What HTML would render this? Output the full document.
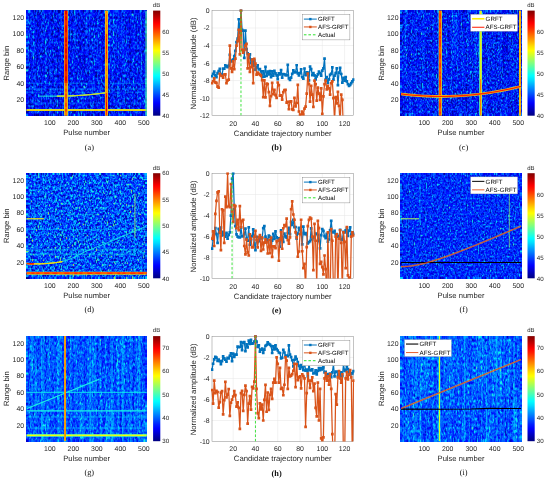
<!DOCTYPE html>
<html lang="en"><head><meta charset="utf-8"><title>Figure</title><style>html,body{margin:0;padding:0;background:#fff}svg{display:block}</style></head><body><svg width="550" height="480" viewBox="0 0 550 480" text-rendering="geometricPrecision"><defs><linearGradient id="jet" x1="0" y1="1" x2="0" y2="0"><stop offset="0" stop-color="#000080"/><stop offset="0.03" stop-color="#00009f"/><stop offset="0.06" stop-color="#0000bf"/><stop offset="0.09" stop-color="#0000df"/><stop offset="0.12" stop-color="#0000ff"/><stop offset="0.16" stop-color="#0020ff"/><stop offset="0.19" stop-color="#0040ff"/><stop offset="0.22" stop-color="#0060ff"/><stop offset="0.25" stop-color="#0080ff"/><stop offset="0.28" stop-color="#009fff"/><stop offset="0.31" stop-color="#00bfff"/><stop offset="0.34" stop-color="#00dfff"/><stop offset="0.38" stop-color="#00ffff"/><stop offset="0.41" stop-color="#20ffdf"/><stop offset="0.44" stop-color="#40ffbf"/><stop offset="0.47" stop-color="#60ff9f"/><stop offset="0.5" stop-color="#80ff80"/><stop offset="0.53" stop-color="#9fff60"/><stop offset="0.56" stop-color="#bfff40"/><stop offset="0.59" stop-color="#dfff20"/><stop offset="0.62" stop-color="#ffff00"/><stop offset="0.66" stop-color="#ffdf00"/><stop offset="0.69" stop-color="#ffbf00"/><stop offset="0.72" stop-color="#ff9f00"/><stop offset="0.75" stop-color="#ff8000"/><stop offset="0.78" stop-color="#ff6000"/><stop offset="0.81" stop-color="#ff4000"/><stop offset="0.84" stop-color="#ff2000"/><stop offset="0.88" stop-color="#ff0000"/><stop offset="0.91" stop-color="#df0000"/><stop offset="0.94" stop-color="#bf0000"/><stop offset="0.97" stop-color="#9f0000"/><stop offset="1" stop-color="#800000"/></linearGradient><filter id="b1" filterUnits="userSpaceOnUse" x="0" y="0" width="550" height="480"><feGaussianBlur stdDeviation="0.45"/></filter><filter id="b2" filterUnits="userSpaceOnUse" x="0" y="0" width="550" height="480"><feGaussianBlur stdDeviation="0.8"/></filter><filter id="na" x="0" y="0" width="1" height="1" color-interpolation-filters="sRGB"><feTurbulence type="fractalNoise" baseFrequency="0.75 0.36" numOctaves="2" seed="3"/><feColorMatrix type="matrix" values="0.5 0.5 0.5 0.5 -0.5 0.5 0.5 0.5 0.5 -0.5 0.5 0.5 0.5 0.5 -0.5 0 0 0 0 1" result="g1"/><feTurbulence type="fractalNoise" baseFrequency="0.4 0.012" numOctaves="2" seed="53" result="s0"/><feColorMatrix in="s0" type="matrix" values="1 0 0 0 0 1 0 0 0 0 1 0 0 0 0 0 0 0 0 1" result="s1"/><feComposite in="g1" in2="s1" operator="arithmetic" k1="0" k2="1" k3="0.3" k4="-0.15"/><feComponentTransfer><feFuncR type="table" tableValues="0 0 0 0 0 0 0 0 0 0 0 0 0 0 0 0 0 0 0 0 0 0 0 0 0 0 0 0 0.03 0.13 0.23 0.33 0.43"/><feFuncG type="table" tableValues="0 0 0 0 0 0 0 0 0 0 0 0 0 0 0 0 0.07 0.14 0.21 0.28 0.35 0.43 0.51 0.59 0.68 0.76 0.85 0.94 1 1 1 1 1"/><feFuncB type="table" tableValues="0.5 0.5 0.5 0.5 0.5 0.5 0.5 0.5 0.51 0.58 0.65 0.72 0.79 0.86 0.93 1 1 1 1 1 1 1 1 1 1 1 1 1 0.97 0.87 0.77 0.67 0.57"/></feComponentTransfer><feConvolveMatrix order="3" kernelMatrix="1 2 1 2 30 2 1 2 1" divisor="42" edgeMode="duplicate" preserveAlpha="true"/></filter><filter id="nc" x="0" y="0" width="1" height="1" color-interpolation-filters="sRGB"><feTurbulence type="fractalNoise" baseFrequency="0.8 0.45" numOctaves="2" seed="11"/><feColorMatrix type="matrix" values="0.5 0.5 0.5 0.5 -0.5 0.5 0.5 0.5 0.5 -0.5 0.5 0.5 0.5 0.5 -0.5 0 0 0 0 1" result="g1"/><feTurbulence type="fractalNoise" baseFrequency="0.4 0.012" numOctaves="2" seed="61" result="s0"/><feColorMatrix in="s0" type="matrix" values="1 0 0 0 0 1 0 0 0 0 1 0 0 0 0 0 0 0 0 1" result="s1"/><feComposite in="g1" in2="s1" operator="arithmetic" k1="0" k2="1" k3="0.25" k4="-0.12"/><feComponentTransfer><feFuncR type="table" tableValues="0 0 0 0 0 0 0 0 0 0 0 0 0 0 0 0 0 0 0 0 0 0 0 0 0 0 0 0 0.03 0.13 0.23 0.33 0.43"/><feFuncG type="table" tableValues="0 0 0 0 0 0 0 0 0 0 0 0 0 0 0 0 0.07 0.14 0.21 0.28 0.35 0.43 0.51 0.59 0.68 0.76 0.85 0.94 1 1 1 1 1"/><feFuncB type="table" tableValues="0.5 0.5 0.5 0.5 0.5 0.5 0.5 0.5 0.51 0.58 0.65 0.72 0.79 0.86 0.93 1 1 1 1 1 1 1 1 1 1 1 1 1 0.97 0.87 0.77 0.67 0.57"/></feComponentTransfer><feConvolveMatrix order="3" kernelMatrix="1 2 1 2 30 2 1 2 1" divisor="42" edgeMode="duplicate" preserveAlpha="true"/></filter><filter id="nd" x="0" y="0" width="1" height="1" color-interpolation-filters="sRGB"><feTurbulence type="fractalNoise" baseFrequency="0.83 0.57" numOctaves="1" seed="5"/><feColorMatrix type="matrix" values="0.5 0.5 0.5 0.5 -0.5 0.5 0.5 0.5 0.5 -0.5 0.5 0.5 0.5 0.5 -0.5 0 0 0 0 1" result="g1"/><feTurbulence type="fractalNoise" baseFrequency="0.47 0.39" numOctaves="2" seed="55" result="s0"/><feColorMatrix in="s0" type="matrix" values="1 0 0 0 0 1 0 0 0 0 1 0 0 0 0 0 0 0 0 1" result="s1"/><feComposite in="g1" in2="s1" operator="arithmetic" k1="0" k2="1" k3="0.66" k4="-0.33"/><feComponentTransfer><feFuncR type="table" tableValues="0 0 0 0 0 0 0 0 0 0 0 0 0 0 0 0 0 0 0 0 0 0 0 0 0.13 0.27 0.41 0.57 0.73 0.9 1 1 1"/><feFuncG type="table" tableValues="0 0 0 0 0 0 0 0 0 0 0 0 0 0.03 0.12 0.2 0.29 0.37 0.46 0.55 0.65 0.76 0.87 1 1 1 1 1 1 1 0.92 0.74 0.54"/><feFuncB type="table" tableValues="0.5 0.5 0.5 0.5 0.5 0.5 0.5 0.52 0.61 0.69 0.78 0.86 0.95 1 1 1 1 1 1 1 1 1 1 1 0.87 0.73 0.59 0.43 0.27 0.1 0 0 0"/></feComponentTransfer><feConvolveMatrix order="3" kernelMatrix="1 2 1 2 30 2 1 2 1" divisor="42" edgeMode="duplicate" preserveAlpha="true"/></filter><filter id="nf" x="0" y="0" width="1" height="1" color-interpolation-filters="sRGB"><feTurbulence type="fractalNoise" baseFrequency="0.83 0.57" numOctaves="1" seed="17"/><feColorMatrix type="matrix" values="0.5 0.5 0.5 0.5 -0.5 0.5 0.5 0.5 0.5 -0.5 0.5 0.5 0.5 0.5 -0.5 0 0 0 0 1" result="g1"/><feTurbulence type="fractalNoise" baseFrequency="0.47 0.39" numOctaves="2" seed="67" result="s0"/><feColorMatrix in="s0" type="matrix" values="1 0 0 0 0 1 0 0 0 0 1 0 0 0 0 0 0 0 0 1" result="s1"/><feComposite in="g1" in2="s1" operator="arithmetic" k1="0" k2="1" k3="0.45" k4="-0.23"/><feComponentTransfer><feFuncR type="table" tableValues="0 0 0 0 0 0 0 0 0 0 0 0 0 0 0 0 0 0 0 0 0 0 0 0 0 0 0 0.02 0.12 0.23 0.34 0.45 0.56"/><feFuncG type="table" tableValues="0 0 0 0 0 0 0 0 0 0 0 0 0 0 0.04 0.1 0.16 0.22 0.29 0.35 0.42 0.5 0.57 0.65 0.74 0.83 0.92 1 1 1 1 1 1"/><feFuncB type="table" tableValues="0.5 0.5 0.5 0.5 0.5 0.5 0.54 0.6 0.66 0.72 0.79 0.85 0.91 0.97 1 1 1 1 1 1 1 1 1 1 1 1 1 0.98 0.88 0.77 0.66 0.55 0.44"/></feComponentTransfer><feConvolveMatrix order="3" kernelMatrix="1 2 1 2 30 2 1 2 1" divisor="42" edgeMode="duplicate" preserveAlpha="true"/></filter><filter id="ng" x="0" y="0" width="1" height="1" color-interpolation-filters="sRGB"><feTurbulence type="fractalNoise" baseFrequency="0.75 0.33" numOctaves="2" seed="7"/><feColorMatrix type="matrix" values="0.5 0.5 0.5 0.5 -0.5 0.5 0.5 0.5 0.5 -0.5 0.5 0.5 0.5 0.5 -0.5 0 0 0 0 1" result="g1"/><feTurbulence type="fractalNoise" baseFrequency="0.4 0.01" numOctaves="2" seed="57" result="s0"/><feColorMatrix in="s0" type="matrix" values="1 0 0 0 0 1 0 0 0 0 1 0 0 0 0 0 0 0 0 1" result="s1"/><feComposite in="g1" in2="s1" operator="arithmetic" k1="0" k2="1" k3="0.45" k4="-0.23"/><feComponentTransfer><feFuncR type="table" tableValues="0 0 0 0 0 0 0 0 0 0 0 0 0 0 0 0 0 0 0 0 0 0 0 0 0 0 0 0.08 0.16 0.25 0.34 0.43 0.52"/><feFuncG type="table" tableValues="0 0 0 0 0 0 0 0 0 0 0.04 0.1 0.15 0.2 0.26 0.31 0.36 0.41 0.47 0.52 0.58 0.64 0.71 0.77 0.84 0.92 1 1 1 1 1 1 1"/><feFuncB type="table" tableValues="0.52 0.57 0.62 0.68 0.73 0.78 0.83 0.89 0.94 0.99 1 1 1 1 1 1 1 1 1 1 1 1 1 1 1 1 1 0.92 0.84 0.75 0.66 0.57 0.48"/></feComponentTransfer><feConvolveMatrix order="3" kernelMatrix="1 2 1 2 30 2 1 2 1" divisor="42" edgeMode="duplicate" preserveAlpha="true"/></filter><filter id="ni" x="0" y="0" width="1" height="1" color-interpolation-filters="sRGB"><feTurbulence type="fractalNoise" baseFrequency="0.75 0.33" numOctaves="2" seed="23"/><feColorMatrix type="matrix" values="0.5 0.5 0.5 0.5 -0.5 0.5 0.5 0.5 0.5 -0.5 0.5 0.5 0.5 0.5 -0.5 0 0 0 0 1" result="g1"/><feTurbulence type="fractalNoise" baseFrequency="0.4 0.01" numOctaves="2" seed="73" result="s0"/><feColorMatrix in="s0" type="matrix" values="1 0 0 0 0 1 0 0 0 0 1 0 0 0 0 0 0 0 0 1" result="s1"/><feComposite in="g1" in2="s1" operator="arithmetic" k1="0" k2="1" k3="0.45" k4="-0.23"/><feComponentTransfer><feFuncR type="table" tableValues="0 0 0 0 0 0 0 0 0 0 0 0 0 0 0 0 0 0 0 0 0 0 0 0 0 0 0 0.08 0.16 0.25 0.34 0.43 0.52"/><feFuncG type="table" tableValues="0 0 0 0 0 0 0 0 0 0 0.04 0.1 0.15 0.2 0.26 0.31 0.36 0.41 0.47 0.52 0.58 0.64 0.71 0.77 0.84 0.92 1 1 1 1 1 1 1"/><feFuncB type="table" tableValues="0.52 0.57 0.62 0.68 0.73 0.78 0.83 0.89 0.94 0.99 1 1 1 1 1 1 1 1 1 1 1 1 1 1 1 1 1 0.92 0.84 0.75 0.66 0.57 0.48"/></feComponentTransfer><feConvolveMatrix order="3" kernelMatrix="1 2 1 2 30 2 1 2 1" divisor="42" edgeMode="duplicate" preserveAlpha="true"/></filter><clipPath id="c00"><rect x="26.4" y="10.6" width="120.4" height="105.1"/></clipPath><clipPath id="c20"><rect x="400.8" y="10.6" width="120.4" height="105.1"/></clipPath><clipPath id="c01"><rect x="26.4" y="173.2" width="120.4" height="105.1"/></clipPath><clipPath id="c21"><rect x="400.8" y="173.2" width="120.4" height="105.1"/></clipPath><clipPath id="c02"><rect x="26.4" y="336.1" width="120.4" height="105.1"/></clipPath><clipPath id="c22"><rect x="400.8" y="336.1" width="120.4" height="105.1"/></clipPath><clipPath id="lp0"><rect x="211" y="9.3" width="143.5" height="106.3"/></clipPath><clipPath id="lp1"><rect x="211" y="172.3" width="143.5" height="106.3"/></clipPath><clipPath id="lp2"><rect x="211" y="335.2" width="143.5" height="106.3"/></clipPath></defs><rect width="550" height="480" fill="#fff"/><rect x="26.4" y="10.6" width="120.4" height="105.1" fill="#0011ff"/>
<rect x="26.4" y="10.6" width="120.4" height="105.1" fill="#00f" filter="url(#na)"/>
<g clip-path="url(#c00)">
<g fill="none" filter="url(#b1)" opacity="0.6" stroke-dasharray="9 1 7 2 5 3 3 2 5 3 3 1"><path d="M26.4 83.27H146.8" stroke="#0094ff" stroke-width="0.83"/><path d="M26.4 83.27H146.8" stroke="#00dbff" stroke-width="0.32"/></g>
<g fill="none" filter="url(#b1)" opacity="0.6" stroke-dasharray="9 1 9 3 9 1 3 3 5 2 3 3"><path d="M26.4 89.01H146.8" stroke="#009eff" stroke-width="0.83"/><path d="M26.4 89.01H146.8" stroke="#00f0ff" stroke-width="0.32"/></g>
<g fill="none" filter="url(#b1)" opacity="0.6" stroke-dasharray="9 2 7 2 3 3 3 3 5 2 7 3"><path d="M26.4 92.3H146.8" stroke="#008aff" stroke-width="0.75"/><path d="M26.4 92.3H146.8" stroke="#00c7ff" stroke-width="0.29"/></g>
<g fill="none" filter="url(#b1)" opacity="0.6" stroke-dasharray="3 1 5 1 9 2 7 1 9 3 5 1"><path d="M26.4 102.97H146.8" stroke="#0075ff" stroke-width="0.75"/><path d="M26.4 102.97H146.8" stroke="#009eff" stroke-width="0.29"/></g>
<g fill="none" filter="url(#b1)"><path d="M26.4 110.12H146.8" stroke="#36ffc9" stroke-width="1.84"/><path d="M26.4 110.12H146.8" stroke="#8fff70" stroke-width="1.57"/><path d="M26.4 110.12H146.8" stroke="#e8ff17" stroke-width="1.33"/><path d="M26.4 110.12H146.8" stroke="#ffbd00" stroke-width="1.16"/><path d="M26.4 110.12H146.8" stroke="#c7ff38" stroke-width="1.16" stroke-dasharray="1 2 1 4 2 2 3 1 4 4" opacity="0.4"/></g>
<g fill="none" filter="url(#b1)" opacity="0.9"><path d="M38.04 96.16L40.39 96.16L42.74 96.16L45.09 96.16L47.45 96.16L49.8 96.16L52.15 96.16L54.5 96.16L56.85 96.16L59.2 96.15" stroke="#00f5ff" stroke-width="0.87"/><path d="M38.04 96.16L40.39 96.16L42.74 96.16L45.09 96.16L47.45 96.16L49.8 96.16L52.15 96.16L54.5 96.16L56.85 96.16L59.2 96.15" stroke="#4dffb2" stroke-width="0.46"/></g>
<g fill="none" filter="url(#b1)"><path d="M56.85 96.16L59.2 96.15L61.56 96.13L63.91 96.09L66.26 96.03L68.61 95.96L70.96 95.88L73.31 95.78L75.67 95.66L78.02 95.53L80.37 95.38L82.72 95.21L85.07 95.03L87.42 94.84L89.77 94.63L92.13 94.4L94.48 94.16L96.83 93.9L99.18 93.63L101.53 93.34L103.88 93.04L106.24 92.72" stroke="#0dfff2" stroke-width="1.06"/><path d="M56.85 96.16L59.2 96.15L61.56 96.13L63.91 96.09L66.26 96.03L68.61 95.96L70.96 95.88L73.31 95.78L75.67 95.66L78.02 95.53L80.37 95.38L82.72 95.21L85.07 95.03L87.42 94.84L89.77 94.63L92.13 94.4L94.48 94.16L96.83 93.9L99.18 93.63L101.53 93.34L103.88 93.04L106.24 92.72" stroke="#67ff98" stroke-width="0.84"/><path d="M56.85 96.16L59.2 96.15L61.56 96.13L63.91 96.09L66.26 96.03L68.61 95.96L70.96 95.88L73.31 95.78L75.67 95.66L78.02 95.53L80.37 95.38L82.72 95.21L85.07 95.03L87.42 94.84L89.77 94.63L92.13 94.4L94.48 94.16L96.83 93.9L99.18 93.63L101.53 93.34L103.88 93.04L106.24 92.72" stroke="#c1ff3e" stroke-width="0.66"/><path d="M56.85 96.16L59.2 96.15L61.56 96.13L63.91 96.09L66.26 96.03L68.61 95.96L70.96 95.88L73.31 95.78L75.67 95.66L78.02 95.53L80.37 95.38L82.72 95.21L85.07 95.03L87.42 94.84L89.77 94.63L92.13 94.4L94.48 94.16L96.83 93.9L99.18 93.63L101.53 93.34L103.88 93.04L106.24 92.72" stroke="#ffe300" stroke-width="0.49"/><path d="M56.85 96.16L59.2 96.15L61.56 96.13L63.91 96.09L66.26 96.03L68.61 95.96L70.96 95.88L73.31 95.78L75.67 95.66L78.02 95.53L80.37 95.38L82.72 95.21L85.07 95.03L87.42 94.84L89.77 94.63L92.13 94.4L94.48 94.16L96.83 93.9L99.18 93.63L101.53 93.34L103.88 93.04L106.24 92.72" stroke="#ff8a00" stroke-width="0.38"/><path d="M56.85 96.16L59.2 96.15L61.56 96.13L63.91 96.09L66.26 96.03L68.61 95.96L70.96 95.88L73.31 95.78L75.67 95.66L78.02 95.53L80.37 95.38L82.72 95.21L85.07 95.03L87.42 94.84L89.77 94.63L92.13 94.4L94.48 94.16L96.83 93.9L99.18 93.63L101.53 93.34L103.88 93.04L106.24 92.72" stroke="#faff05" stroke-width="0.38" stroke-dasharray="7 2 2 5 5 2 5 5 2 2" opacity="0.4"/></g>
<g fill="none" filter="url(#b1)"><path d="M66.02 115.7V81.62" stroke="#6bff94" stroke-width="3.42"/><path d="M66.02 115.7V81.62" stroke="#bdff42" stroke-width="3.05"/><path d="M66.02 115.7V81.62" stroke="#fff000" stroke-width="2.76"/><path d="M66.02 115.7V81.62" stroke="#ff9e00" stroke-width="2.47"/><path d="M66.02 115.7V81.62" stroke="#ff4c00" stroke-width="2.29"/><path d="M66.02 115.7V81.62" stroke="#ffc700" stroke-width="2.29" stroke-dasharray="4 3 2 4 4 5 2 3 3 4" opacity="0.4"/></g>
<g fill="none" filter="url(#b1)"><path d="M66.02 83.27V10.6" stroke="#80ff80" stroke-width="3.71"/><path d="M66.02 83.27V10.6" stroke="#d1ff2e" stroke-width="3.36"/><path d="M66.02 83.27V10.6" stroke="#ffdb00" stroke-width="3.1"/><path d="M66.02 83.27V10.6" stroke="#ff8a00" stroke-width="2.86"/><path d="M66.02 83.27V10.6" stroke="#ff3800" stroke-width="2.61"/><path d="M66.02 83.27V10.6" stroke="#e50000" stroke-width="2.49"/><path d="M66.02 83.27V10.6" stroke="#ff6100" stroke-width="2.49" stroke-dasharray="2 5 5 7 5 4 2 5 2 2" opacity="0.4"/></g>
<g fill="none" filter="url(#b1)"><path d="M106.47 115.7V10.6" stroke="#3cffc3" stroke-width="3.08"/><path d="M106.47 115.7V10.6" stroke="#92ff6d" stroke-width="2.64"/><path d="M106.47 115.7V10.6" stroke="#e8ff17" stroke-width="2.3"/><path d="M106.47 115.7V10.6" stroke="#ffc100" stroke-width="1.96"/><path d="M106.47 115.7V10.6" stroke="#ff6b00" stroke-width="1.75"/><path d="M106.47 115.7V10.6" stroke="#ffe500" stroke-width="1.75" stroke-dasharray="4 5 3 7 2 1 5 3 7 4" opacity="0.4"/></g>
<g fill="none" filter="url(#b1)"><path d="M106.47 115.29V93.12" stroke="#ff5700" stroke-width="1.47"/><path d="M106.47 115.29V93.12" stroke="#fa0000" stroke-width="1.06"/><path d="M106.47 115.29V93.12" stroke="#ff7500" stroke-width="1.06" stroke-dasharray="4 3 1 5 5 2 4 2 2 2" opacity="0.4"/></g>
<g fill="none" filter="url(#b1)"><path d="M106.47 58.63V34" stroke="#ff6100" stroke-width="1.37"/><path d="M106.47 58.63V34" stroke="#ff0f00" stroke-width="0.96"/><path d="M106.47 58.63V34" stroke="#ff8a00" stroke-width="0.96" stroke-dasharray="5 2 3 3 5 2 2 1 5 2" opacity="0.4"/></g>
<g fill="none" filter="url(#b1)"><path d="M146.21 115.7V10.6" stroke="#09fff6" stroke-width="0.83"/><path d="M146.21 115.7V10.6" stroke="#5effa2" stroke-width="0.58"/><path d="M146.21 115.7V10.6" stroke="#b3ff4c" stroke-width="0.39"/><path d="M146.21 115.7V10.6" stroke="#38ffc7" stroke-width="0.39" stroke-dasharray="1 1 3 4 2 3 3 2 7 2" opacity="0.4"/></g>
</g>
<text x="24.1" y="102.14" font-size="6.9" text-anchor="end" font-family='"Liberation Sans", Arial, sans-serif' fill="#262626">20</text>
<text x="24.1" y="85.72" font-size="6.9" text-anchor="end" font-family='"Liberation Sans", Arial, sans-serif' fill="#262626">40</text>
<text x="24.1" y="69.29" font-size="6.9" text-anchor="end" font-family='"Liberation Sans", Arial, sans-serif' fill="#262626">60</text>
<text x="24.1" y="52.87" font-size="6.9" text-anchor="end" font-family='"Liberation Sans", Arial, sans-serif' fill="#262626">80</text>
<text x="24.1" y="36.45" font-size="6.9" text-anchor="end" font-family='"Liberation Sans", Arial, sans-serif' fill="#262626">100</text>
<text x="24.1" y="20.03" font-size="6.9" text-anchor="end" font-family='"Liberation Sans", Arial, sans-serif' fill="#262626">120</text>
<text x="49.8" y="125.3" font-size="6.9" text-anchor="middle" font-family='"Liberation Sans", Arial, sans-serif' fill="#262626">100</text>
<text x="73.31" y="125.3" font-size="6.9" text-anchor="middle" font-family='"Liberation Sans", Arial, sans-serif' fill="#262626">200</text>
<text x="96.83" y="125.3" font-size="6.9" text-anchor="middle" font-family='"Liberation Sans", Arial, sans-serif' fill="#262626">300</text>
<text x="120.34" y="125.3" font-size="6.9" text-anchor="middle" font-family='"Liberation Sans", Arial, sans-serif' fill="#262626">400</text>
<text x="143.86" y="125.3" font-size="6.9" text-anchor="middle" font-family='"Liberation Sans", Arial, sans-serif' fill="#262626">500</text>
<text x="86.6" y="135.3" font-size="7.6" text-anchor="middle" font-family='"Liberation Sans", Arial, sans-serif' fill="#262626">Pulse number</text>
<text transform="translate(9.2 63.15) rotate(-90)" font-size="7.6" text-anchor="middle" font-family='"Liberation Sans", Arial, sans-serif' fill="#262626">Range bin</text>
<text x="89.3" y="149.7" font-size="8.3" text-anchor="middle" font-family='"Liberation Serif", "Times New Roman", serif' fill="#111">(a)</text>
<rect x="153.1" y="10.6" width="7.2" height="105.1" fill="url(#jet)"/>
<text x="162.3" y="117.9" font-size="6.2" text-anchor="start" font-family='"Liberation Sans", Arial, sans-serif' fill="#262626">40</text>
<text x="162.3" y="96.93" font-size="6.2" text-anchor="start" font-family='"Liberation Sans", Arial, sans-serif' fill="#262626">45</text>
<text x="162.3" y="75.96" font-size="6.2" text-anchor="start" font-family='"Liberation Sans", Arial, sans-serif' fill="#262626">50</text>
<text x="162.3" y="54.99" font-size="6.2" text-anchor="start" font-family='"Liberation Sans", Arial, sans-serif' fill="#262626">55</text>
<text x="162.3" y="34.02" font-size="6.2" text-anchor="start" font-family='"Liberation Sans", Arial, sans-serif' fill="#262626">60</text>
<text x="156.5" y="6.9" font-size="6" text-anchor="middle" font-family='"Liberation Sans", Arial, sans-serif' fill="#262626">dB</text>
<rect x="400.8" y="10.6" width="120.4" height="105.1" fill="#0011ff"/>
<rect x="400.8" y="10.6" width="120.4" height="105.1" fill="#00f" filter="url(#nc)"/>
<g clip-path="url(#c20)">
<g fill="none" filter="url(#b1)"><path d="M440.19 115.7V10.6" stroke="#71ff8e" stroke-width="3.02"/><path d="M440.19 115.7V10.6" stroke="#c9ff36" stroke-width="2.65"/><path d="M440.19 115.7V10.6" stroke="#ffdd00" stroke-width="2.36"/><path d="M440.19 115.7V10.6" stroke="#ff8600" stroke-width="2.07"/><path d="M440.19 115.7V10.6" stroke="#ff2e00" stroke-width="1.89"/><path d="M440.19 115.7V10.6" stroke="#ffa800" stroke-width="1.89" stroke-dasharray="2 2 4 5 4 5 7 7 1 3" opacity="0.4"/></g>
<g fill="none" filter="url(#b1)"><path d="M480.64 115.7V10.6" stroke="#0ffff0" stroke-width="2.55"/><path d="M480.64 115.7V10.6" stroke="#6bff94" stroke-width="2.07"/><path d="M480.64 115.7V10.6" stroke="#c7ff38" stroke-width="1.65"/><path d="M480.64 115.7V10.6" stroke="#ffdb00" stroke-width="1.35"/><path d="M480.64 115.7V10.6" stroke="#a8ff57" stroke-width="1.35" stroke-dasharray="3 2 3 2 7 1 7 2 2 2" opacity="0.4"/></g>
<g fill="none" filter="url(#b1)"><path d="M480.64 115.29V79.16" stroke="#ffb300" stroke-width="1.17"/><path d="M480.64 115.29V79.16" stroke="#ff4c00" stroke-width="0.76"/><path d="M480.64 115.29V79.16" stroke="#ffc700" stroke-width="0.76" stroke-dasharray="5 3 2 2 2 2 3 2 4 7" opacity="0.4"/></g>
<g fill="none" filter="url(#b1)"><path d="M520.14 115.7V10.6" stroke="#36ffc9" stroke-width="2.27"/><path d="M520.14 115.7V10.6" stroke="#86ff79" stroke-width="1.96"/><path d="M520.14 115.7V10.6" stroke="#d5ff2a" stroke-width="1.71"/><path d="M520.14 115.7V10.6" stroke="#ffd900" stroke-width="1.47"/><path d="M520.14 115.7V10.6" stroke="#ff8a00" stroke-width="1.32"/><path d="M520.14 115.7V10.6" stroke="#faff05" stroke-width="1.32" stroke-dasharray="1 4 4 1 3 1 7 4 7 7" opacity="0.4"/></g>
<polyline points="400.92,93.94 404.68,94.39 408.44,94.79 412.21,95.14 415.97,95.45 419.73,95.72 423.49,95.94 427.26,96.12 431.02,96.26 434.78,96.35 438.54,96.4 442.31,96.4 446.07,96.36 449.83,96.27 453.59,96.14 457.36,95.97 461.12,95.75 464.88,95.49 468.64,95.18 472.41,94.83 476.17,94.44 479.93,94 483.69,93.52 487.46,92.99 491.22,92.42 494.98,91.8 498.74,91.14 502.51,90.44 506.27,89.69 510.03,88.9 513.79,88.07 517.56,87.19 521.32,86.26" fill="none" stroke="#ffe800" stroke-width="2.6" opacity="0.9" stroke-linejoin="round"/>
<polyline points="400.92,93.94 404.68,94.39 408.44,94.79 412.21,95.14 415.97,95.45 419.73,95.72 423.49,95.94 427.26,96.12 431.02,96.26 434.78,96.35 438.54,96.4 442.31,96.4 446.07,96.36 449.83,96.27 453.59,96.14 457.36,95.97 461.12,95.75 464.88,95.49 468.64,95.18 472.41,94.83 476.17,94.44 479.93,94 483.69,93.52 487.46,92.99 491.22,92.42 494.98,91.8 498.74,91.14 502.51,90.44 506.27,89.69 510.03,88.9 513.79,88.07 517.56,87.19 521.32,86.26" fill="none" stroke="#ff2000" stroke-width="1.3" opacity="1" stroke-linejoin="round"/>
</g>
<text x="398.5" y="102.14" font-size="6.9" text-anchor="end" font-family='"Liberation Sans", Arial, sans-serif' fill="#262626">20</text>
<text x="398.5" y="85.72" font-size="6.9" text-anchor="end" font-family='"Liberation Sans", Arial, sans-serif' fill="#262626">40</text>
<text x="398.5" y="69.29" font-size="6.9" text-anchor="end" font-family='"Liberation Sans", Arial, sans-serif' fill="#262626">60</text>
<text x="398.5" y="52.87" font-size="6.9" text-anchor="end" font-family='"Liberation Sans", Arial, sans-serif' fill="#262626">80</text>
<text x="398.5" y="36.45" font-size="6.9" text-anchor="end" font-family='"Liberation Sans", Arial, sans-serif' fill="#262626">100</text>
<text x="398.5" y="20.03" font-size="6.9" text-anchor="end" font-family='"Liberation Sans", Arial, sans-serif' fill="#262626">120</text>
<text x="424.2" y="125.3" font-size="6.9" text-anchor="middle" font-family='"Liberation Sans", Arial, sans-serif' fill="#262626">100</text>
<text x="447.71" y="125.3" font-size="6.9" text-anchor="middle" font-family='"Liberation Sans", Arial, sans-serif' fill="#262626">200</text>
<text x="471.23" y="125.3" font-size="6.9" text-anchor="middle" font-family='"Liberation Sans", Arial, sans-serif' fill="#262626">300</text>
<text x="494.74" y="125.3" font-size="6.9" text-anchor="middle" font-family='"Liberation Sans", Arial, sans-serif' fill="#262626">400</text>
<text x="518.26" y="125.3" font-size="6.9" text-anchor="middle" font-family='"Liberation Sans", Arial, sans-serif' fill="#262626">500</text>
<text x="461" y="135.3" font-size="7.6" text-anchor="middle" font-family='"Liberation Sans", Arial, sans-serif' fill="#262626">Pulse number</text>
<text transform="translate(383.6 63.15) rotate(-90)" font-size="7.6" text-anchor="middle" font-family='"Liberation Sans", Arial, sans-serif' fill="#262626">Range bin</text>
<text x="463.7" y="149.7" font-size="8.3" text-anchor="middle" font-family='"Liberation Serif", "Times New Roman", serif' fill="#111">(c)</text>
<rect x="527.5" y="10.6" width="7.2" height="105.1" fill="url(#jet)"/>
<text x="536.7" y="117.9" font-size="6.2" text-anchor="start" font-family='"Liberation Sans", Arial, sans-serif' fill="#262626">40</text>
<text x="536.7" y="96.93" font-size="6.2" text-anchor="start" font-family='"Liberation Sans", Arial, sans-serif' fill="#262626">45</text>
<text x="536.7" y="75.96" font-size="6.2" text-anchor="start" font-family='"Liberation Sans", Arial, sans-serif' fill="#262626">50</text>
<text x="536.7" y="54.99" font-size="6.2" text-anchor="start" font-family='"Liberation Sans", Arial, sans-serif' fill="#262626">55</text>
<text x="536.7" y="34.02" font-size="6.2" text-anchor="start" font-family='"Liberation Sans", Arial, sans-serif' fill="#262626">60</text>
<text x="530.9" y="6.9" font-size="6" text-anchor="middle" font-family='"Liberation Sans", Arial, sans-serif' fill="#262626">dB</text>
<rect x="470.6" y="14.3" width="47" height="17" fill="#fff" stroke="#888" stroke-width="0.3"/>
<line x1="472.1" y1="18.75" x2="484.4" y2="18.75" stroke="#ffee00" stroke-width="1.6"/>
<text x="485.6" y="20.95" font-size="6.2" text-anchor="start" font-family='"Liberation Sans", Arial, sans-serif' fill="#000">GRFT</text>
<line x1="472.1" y1="27.25" x2="484.4" y2="27.25" stroke="#ff1a00" stroke-width="1"/>
<text x="485.6" y="29.45" font-size="6.2" text-anchor="start" font-family='"Liberation Sans", Arial, sans-serif' fill="#000">AFS-GRFT</text>
<rect x="26.4" y="173.2" width="120.4" height="105.1" fill="#0049ff"/>
<rect x="26.4" y="173.2" width="120.4" height="105.1" fill="#00f" filter="url(#nd)"/>
<g clip-path="url(#c01)">
<g fill="none" filter="url(#b1)" opacity="0.7" stroke-dasharray="7 1 7 2 7 3 5 1 3 1 3 3"><path d="M26.4 249.97H146.8" stroke="#00ebff" stroke-width="0.75"/><path d="M26.4 249.97H146.8" stroke="#4dffb2" stroke-width="0.29"/></g>
<g fill="none" filter="url(#b1)" opacity="0.7" stroke-dasharray="7 1 3 1 9 1 7 3 3 1 3 1"><path d="M26.4 254.08H146.8" stroke="#00ebff" stroke-width="0.75"/><path d="M26.4 254.08H146.8" stroke="#4dffb2" stroke-width="0.29"/></g>
<g fill="none" filter="url(#b1)" opacity="0.6" stroke-dasharray="3 1 7 1 7 2 5 1 5 1 5 3"><path d="M26.4 229.44H146.8" stroke="#00bdff" stroke-width="0.75"/><path d="M26.4 229.44H146.8" stroke="#05fffa" stroke-width="0.29"/></g>
<g fill="none" filter="url(#b1)"><path d="M61.56 261.77L64.38 261L67.2 260.09L70.02 259.04L72.84 257.87L75.67 256.57L78.49 255.18L81.31 253.7L84.13 252.14L86.95 250.88L89.77 249.78L92.6 248.67L95.42 247.54L98.24 246.41L101.06 245.27L103.88 244.12L106.71 242.97L109.53 241.8L112.35 240.64L115.17 239.46L117.99 238.29L120.82 237.1L123.64 235.92L126.46 234.73L129.28 233.53L132.1 232.34L134.92 231.14L137.75 229.93L140.57 228.73L143.39 227.52L146.21 226.31" stroke="#00f0ff" stroke-width="0.75"/><path d="M61.56 261.77L64.38 261L67.2 260.09L70.02 259.04L72.84 257.87L75.67 256.57L78.49 255.18L81.31 253.7L84.13 252.14L86.95 250.88L89.77 249.78L92.6 248.67L95.42 247.54L98.24 246.41L101.06 245.27L103.88 244.12L106.71 242.97L109.53 241.8L112.35 240.64L115.17 239.46L117.99 238.29L120.82 237.1L123.64 235.92L126.46 234.73L129.28 233.53L132.1 232.34L134.92 231.14L137.75 229.93L140.57 228.73L143.39 227.52L146.21 226.31" stroke="#57ffa8" stroke-width="0.29"/><path d="M61.56 261.77L64.38 261L67.2 260.09L70.02 259.04L72.84 257.87L75.67 256.57L78.49 255.18L81.31 253.7L84.13 252.14L86.95 250.88L89.77 249.78L92.6 248.67L95.42 247.54L98.24 246.41L101.06 245.27L103.88 244.12L106.71 242.97L109.53 241.8L112.35 240.64L115.17 239.46L117.99 238.29L120.82 237.1L123.64 235.92L126.46 234.73L129.28 233.53L132.1 232.34L134.92 231.14L137.75 229.93L140.57 228.73L143.39 227.52L146.21 226.31" stroke="#00dbff" stroke-width="0.29" stroke-dasharray="1 7 1 7 2 3 2 7 7 3" opacity="0.4"/></g>
<g fill="none" filter="url(#b1)"><path d="M26.52 263.48L28.4 263.6L30.28 263.7L32.16 263.77L34.04 263.82L35.92 263.85L37.81 263.85L39.69 263.82L41.57 263.77L43.45 263.7L45.33 263.6L47.21 263.48L49.09 263.34L50.97 263.17L52.86 262.98L54.74 262.76L56.62 262.52L58.5 262.25L60.38 261.96L62.26 261.65" stroke="#a2ff5e" stroke-width="1.19"/><path d="M26.52 263.48L28.4 263.6L30.28 263.7L32.16 263.77L34.04 263.82L35.92 263.85L37.81 263.85L39.69 263.82L41.57 263.77L43.45 263.7L45.33 263.6L47.21 263.48L49.09 263.34L50.97 263.17L52.86 262.98L54.74 262.76L56.62 262.52L58.5 262.25L60.38 261.96L62.26 261.65" stroke="#f7ff08" stroke-width="0.92"/><path d="M26.52 263.48L28.4 263.6L30.28 263.7L32.16 263.77L34.04 263.82L35.92 263.85L37.81 263.85L39.69 263.82L41.57 263.77L43.45 263.7L45.33 263.6L47.21 263.48L49.09 263.34L50.97 263.17L52.86 262.98L54.74 262.76L56.62 262.52L58.5 262.25L60.38 261.96L62.26 261.65" stroke="#ffb300" stroke-width="0.71"/><path d="M26.52 263.48L28.4 263.6L30.28 263.7L32.16 263.77L34.04 263.82L35.92 263.85L37.81 263.85L39.69 263.82L41.57 263.77L43.45 263.7L45.33 263.6L47.21 263.48L49.09 263.34L50.97 263.17L52.86 262.98L54.74 262.76L56.62 262.52L58.5 262.25L60.38 261.96L62.26 261.65" stroke="#d1ff2e" stroke-width="0.71" stroke-dasharray="2 2 2 1 3 3 4 2 2 1" opacity="0.4"/></g>
<g fill="none" filter="url(#b1)"><path d="M26.52 263.48L27.46 263.55L28.4 263.6L29.34 263.66L30.28 263.7L31.22 263.74L32.16 263.77L33.1 263.8L34.04 263.82" stroke="#ffcc00" stroke-width="1.52"/><path d="M26.52 263.48L27.46 263.55L28.4 263.6L29.34 263.66L30.28 263.7L31.22 263.74L32.16 263.77L33.1 263.8L34.04 263.82" stroke="#ff8000" stroke-width="1.28"/><path d="M26.52 263.48L27.46 263.55L28.4 263.6L29.34 263.66L30.28 263.7L31.22 263.74L32.16 263.77L33.1 263.8L34.04 263.82" stroke="#ff3300" stroke-width="1.08"/><path d="M26.52 263.48L27.46 263.55L28.4 263.6L29.34 263.66L30.28 263.7L31.22 263.74L32.16 263.77L33.1 263.8L34.04 263.82" stroke="#e50000" stroke-width="0.93"/><path d="M26.52 263.48L27.46 263.55L28.4 263.6L29.34 263.66L30.28 263.7L31.22 263.74L32.16 263.77L33.1 263.8L34.04 263.82" stroke="#ff6100" stroke-width="0.93" stroke-dasharray="4 2 2 3 2 5 2 1 2 5" opacity="0.4"/></g>
<g fill="none" filter="url(#b1)"><path d="M26.52 218.77H43.92" stroke="#dbff24" stroke-width="0.95"/><path d="M26.52 218.77H43.92" stroke="#ffc700" stroke-width="0.64"/><path d="M26.52 218.77H43.92" stroke="#bdff42" stroke-width="0.64" stroke-dasharray="2 4 3 2 5 3 2 2 7 5" opacity="0.4"/></g>
<g fill="none" filter="url(#b1)" opacity="0.6" stroke-dasharray="7 3 7 2 7 1 9 2 5 2 9 1"><path d="M67.43 214.67H96.83" stroke="#00dbff" stroke-width="0.75"/><path d="M67.43 214.67H96.83" stroke="#42ffbd" stroke-width="0.29"/></g>
<g fill="none" filter="url(#b1)"><path d="M134.92 237.66V193.32" stroke="#80ff80" stroke-width="0.52"/><path d="M134.92 237.66V193.32" stroke="#e5ff1a" stroke-width="0.29"/><path d="M134.92 237.66V193.32" stroke="#6bff94" stroke-width="0.29" stroke-dasharray="7 2 7 5 4 7 3 2 1 2" opacity="0.4"/></g>
<g fill="none" filter="url(#b1)" opacity="0.6" stroke-dasharray="3 2 3 3 3 1 5 3 5 1 5 1"><path d="M45.57 229.44V176.07" stroke="#00d1ff" stroke-width="0.75"/><path d="M45.57 229.44V176.07" stroke="#2effd1" stroke-width="0.29"/></g>
<g fill="none" filter="url(#b1)"><path d="M26.4 273.13H146.8" stroke="#adff52" stroke-width="2.68"/><path d="M26.4 273.13H146.8" stroke="#fff000" stroke-width="2.33"/><path d="M26.4 273.13H146.8" stroke="#ff8f00" stroke-width="2.04"/><path d="M26.4 273.13H146.8" stroke="#ff2e00" stroke-width="1.82"/><path d="M26.4 273.13H146.8" stroke="#ffa800" stroke-width="1.82" stroke-dasharray="5 3 2 3 5 5 3 5 7 5" opacity="0.4"/></g>
</g>
<text x="24.1" y="264.74" font-size="6.9" text-anchor="end" font-family='"Liberation Sans", Arial, sans-serif' fill="#262626">20</text>
<text x="24.1" y="248.32" font-size="6.9" text-anchor="end" font-family='"Liberation Sans", Arial, sans-serif' fill="#262626">40</text>
<text x="24.1" y="231.89" font-size="6.9" text-anchor="end" font-family='"Liberation Sans", Arial, sans-serif' fill="#262626">60</text>
<text x="24.1" y="215.47" font-size="6.9" text-anchor="end" font-family='"Liberation Sans", Arial, sans-serif' fill="#262626">80</text>
<text x="24.1" y="199.05" font-size="6.9" text-anchor="end" font-family='"Liberation Sans", Arial, sans-serif' fill="#262626">100</text>
<text x="24.1" y="182.63" font-size="6.9" text-anchor="end" font-family='"Liberation Sans", Arial, sans-serif' fill="#262626">120</text>
<text x="49.8" y="287.9" font-size="6.9" text-anchor="middle" font-family='"Liberation Sans", Arial, sans-serif' fill="#262626">100</text>
<text x="73.31" y="287.9" font-size="6.9" text-anchor="middle" font-family='"Liberation Sans", Arial, sans-serif' fill="#262626">200</text>
<text x="96.83" y="287.9" font-size="6.9" text-anchor="middle" font-family='"Liberation Sans", Arial, sans-serif' fill="#262626">300</text>
<text x="120.34" y="287.9" font-size="6.9" text-anchor="middle" font-family='"Liberation Sans", Arial, sans-serif' fill="#262626">400</text>
<text x="143.86" y="287.9" font-size="6.9" text-anchor="middle" font-family='"Liberation Sans", Arial, sans-serif' fill="#262626">500</text>
<text x="86.6" y="297.9" font-size="7.6" text-anchor="middle" font-family='"Liberation Sans", Arial, sans-serif' fill="#262626">Pulse number</text>
<text transform="translate(9.2 225.75) rotate(-90)" font-size="7.6" text-anchor="middle" font-family='"Liberation Sans", Arial, sans-serif' fill="#262626">Range bin</text>
<text x="89.3" y="312.3" font-size="8.3" text-anchor="middle" font-family='"Liberation Serif", "Times New Roman", serif' fill="#111">(d)</text>
<rect x="153.1" y="173.2" width="7.2" height="105.1" fill="url(#jet)"/>
<text x="162.3" y="280.5" font-size="6.2" text-anchor="start" font-family='"Liberation Sans", Arial, sans-serif' fill="#262626">40</text>
<text x="162.3" y="254.22" font-size="6.2" text-anchor="start" font-family='"Liberation Sans", Arial, sans-serif' fill="#262626">45</text>
<text x="162.3" y="227.95" font-size="6.2" text-anchor="start" font-family='"Liberation Sans", Arial, sans-serif' fill="#262626">50</text>
<text x="162.3" y="201.67" font-size="6.2" text-anchor="start" font-family='"Liberation Sans", Arial, sans-serif' fill="#262626">55</text>
<text x="162.3" y="175.4" font-size="6.2" text-anchor="start" font-family='"Liberation Sans", Arial, sans-serif' fill="#262626">60</text>
<text x="156.5" y="169.5" font-size="6" text-anchor="middle" font-family='"Liberation Sans", Arial, sans-serif' fill="#262626">dB</text>
<rect x="400.8" y="173.2" width="120.4" height="105.1" fill="#0029ff"/>
<rect x="400.8" y="173.2" width="120.4" height="105.1" fill="#00f" filter="url(#nf)"/>
<g clip-path="url(#c21)">
<g fill="none" filter="url(#b1)"><path d="M400.92 218.77H419.02" stroke="#80ff80" stroke-width="0.77"/><path d="M400.92 218.77H419.02" stroke="#e5ff1a" stroke-width="0.48"/><path d="M400.92 218.77H419.02" stroke="#6bff94" stroke-width="0.48" stroke-dasharray="1 1 4 5 2 2 7 5 1 7" opacity="0.4"/></g>
<g fill="none" filter="url(#b1)"><path d="M509.32 247.51V193.32" stroke="#75ff8a" stroke-width="0.49"/><path d="M509.32 247.51V193.32" stroke="#d1ff2e" stroke-width="0.26"/><path d="M509.32 247.51V193.32" stroke="#57ffa8" stroke-width="0.26" stroke-dasharray="3 7 7 5 7 7 2 2 1 5" opacity="0.4"/></g>
<g fill="none" filter="url(#b1)" opacity="0.6" stroke-dasharray="3 3 9 2 5 2 7 1 3 1 9 1"><path d="M419.97 229.44V176.07" stroke="#00b2ff" stroke-width="0.75"/><path d="M419.97 229.44V176.07" stroke="#05fffa" stroke-width="0.29"/></g>
<polyline points="400.92,266.64 404.68,266.54 408.44,266.26 412.21,265.8 415.97,265.2 419.73,264.45 423.49,263.58 427.26,262.6 431.02,261.54 434.78,260.39 438.54,259.18 442.31,257.91 446.07,256.59 449.83,255.24 453.59,253.84 457.36,252.42 461.12,250.97 464.88,249.5 468.64,248.01 472.41,246.51 476.17,244.98 479.93,243.45 483.69,241.9 487.46,240.34 491.22,238.78 494.98,237.2 498.74,235.62 502.51,234.03 506.27,232.44 510.03,230.83 513.79,229.23 517.56,227.62 521.32,226" fill="none" stroke="#f0c040" stroke-width="1.7" opacity="0.45" stroke-linejoin="round"/>
<polyline points="400.92,262.53 521.08,262.53" fill="none" stroke="#000" stroke-width="1.15" opacity="1" stroke-linejoin="round"/>
<polyline points="400.92,266.64 404.68,266.54 408.44,266.26 412.21,265.8 415.97,265.2 419.73,264.45 423.49,263.58 427.26,262.6 431.02,261.54 434.78,260.39 438.54,259.18 442.31,257.91 446.07,256.59 449.83,255.24 453.59,253.84 457.36,252.42 461.12,250.97 464.88,249.5 468.64,248.01 472.41,246.51 476.17,244.98 479.93,243.45 483.69,241.9 487.46,240.34 491.22,238.78 494.98,237.2 498.74,235.62 502.51,234.03 506.27,232.44 510.03,230.83 513.79,229.23 517.56,227.62 521.32,226" fill="none" stroke="#e4501a" stroke-width="0.95" opacity="1" stroke-linejoin="round"/>
</g>
<text x="398.5" y="264.74" font-size="6.9" text-anchor="end" font-family='"Liberation Sans", Arial, sans-serif' fill="#262626">20</text>
<text x="398.5" y="248.32" font-size="6.9" text-anchor="end" font-family='"Liberation Sans", Arial, sans-serif' fill="#262626">40</text>
<text x="398.5" y="231.89" font-size="6.9" text-anchor="end" font-family='"Liberation Sans", Arial, sans-serif' fill="#262626">60</text>
<text x="398.5" y="215.47" font-size="6.9" text-anchor="end" font-family='"Liberation Sans", Arial, sans-serif' fill="#262626">80</text>
<text x="398.5" y="199.05" font-size="6.9" text-anchor="end" font-family='"Liberation Sans", Arial, sans-serif' fill="#262626">100</text>
<text x="398.5" y="182.63" font-size="6.9" text-anchor="end" font-family='"Liberation Sans", Arial, sans-serif' fill="#262626">120</text>
<text x="424.2" y="287.9" font-size="6.9" text-anchor="middle" font-family='"Liberation Sans", Arial, sans-serif' fill="#262626">100</text>
<text x="447.71" y="287.9" font-size="6.9" text-anchor="middle" font-family='"Liberation Sans", Arial, sans-serif' fill="#262626">200</text>
<text x="471.23" y="287.9" font-size="6.9" text-anchor="middle" font-family='"Liberation Sans", Arial, sans-serif' fill="#262626">300</text>
<text x="494.74" y="287.9" font-size="6.9" text-anchor="middle" font-family='"Liberation Sans", Arial, sans-serif' fill="#262626">400</text>
<text x="518.26" y="287.9" font-size="6.9" text-anchor="middle" font-family='"Liberation Sans", Arial, sans-serif' fill="#262626">500</text>
<text x="461" y="297.9" font-size="7.6" text-anchor="middle" font-family='"Liberation Sans", Arial, sans-serif' fill="#262626">Pulse number</text>
<text transform="translate(383.6 225.75) rotate(-90)" font-size="7.6" text-anchor="middle" font-family='"Liberation Sans", Arial, sans-serif' fill="#262626">Range bin</text>
<text x="463.7" y="312.3" font-size="8.3" text-anchor="middle" font-family='"Liberation Serif", "Times New Roman", serif' fill="#111">(f)</text>
<rect x="527.5" y="173.2" width="7.2" height="105.1" fill="url(#jet)"/>
<text x="536.7" y="280.5" font-size="6.2" text-anchor="start" font-family='"Liberation Sans", Arial, sans-serif' fill="#262626">40</text>
<text x="536.7" y="259.53" font-size="6.2" text-anchor="start" font-family='"Liberation Sans", Arial, sans-serif' fill="#262626">45</text>
<text x="536.7" y="238.56" font-size="6.2" text-anchor="start" font-family='"Liberation Sans", Arial, sans-serif' fill="#262626">50</text>
<text x="536.7" y="217.59" font-size="6.2" text-anchor="start" font-family='"Liberation Sans", Arial, sans-serif' fill="#262626">55</text>
<text x="536.7" y="196.62" font-size="6.2" text-anchor="start" font-family='"Liberation Sans", Arial, sans-serif' fill="#262626">60</text>
<text x="530.9" y="169.5" font-size="6" text-anchor="middle" font-family='"Liberation Sans", Arial, sans-serif' fill="#262626">dB</text>
<rect x="470.6" y="176.9" width="47" height="17" fill="#fff" stroke="#888" stroke-width="0.3"/>
<line x1="472.1" y1="181.35" x2="484.4" y2="181.35" stroke="#000" stroke-width="1"/>
<text x="485.6" y="183.55" font-size="6.2" text-anchor="start" font-family='"Liberation Sans", Arial, sans-serif' fill="#000">GRFT</text>
<line x1="472.1" y1="189.85" x2="484.4" y2="189.85" stroke="#e4501a" stroke-width="0.9"/>
<text x="485.6" y="192.05" font-size="6.2" text-anchor="start" font-family='"Liberation Sans", Arial, sans-serif' fill="#000">AFS-GRFT</text>
<rect x="26.4" y="336.1" width="120.4" height="105.1" fill="#005cff"/>
<rect x="26.4" y="336.1" width="120.4" height="105.1" fill="#00f" filter="url(#ng)"/>
<g clip-path="url(#c02)">
<g fill="none" filter="url(#b1)" opacity="0.7" stroke-dasharray="7 2 9 1 9 1 3 3 7 1 7 3"><path d="M41.57 441.2V336.1" stroke="#00b2ff" stroke-width="1.17"/><path d="M41.57 441.2V336.1" stroke="#00f0ff" stroke-width="0.45"/></g>
<g fill="none" filter="url(#b1)" opacity="0.7" stroke-dasharray="9 1 5 1 7 2 5 3 3 3 9 1"><path d="M90.24 441.2V336.1" stroke="#00b2ff" stroke-width="1.17"/><path d="M90.24 441.2V336.1" stroke="#00f0ff" stroke-width="0.45"/></g>
<g fill="none" filter="url(#b1)" opacity="0.7" stroke-dasharray="9 3 9 2 9 3 7 1 3 3 3 2"><path d="M112.11 441.2V336.1" stroke="#00b2ff" stroke-width="1.17"/><path d="M112.11 441.2V336.1" stroke="#00f0ff" stroke-width="0.45"/></g>
<g fill="none" filter="url(#b1)" opacity="0.7" stroke-dasharray="5 2 7 3 7 1 5 3 9 1 7 1"><path d="M122.7 441.2V336.1" stroke="#00b2ff" stroke-width="1.17"/><path d="M122.7 441.2V336.1" stroke="#00f0ff" stroke-width="0.45"/></g>
<g fill="none" filter="url(#b1)" opacity="0.7" stroke-dasharray="5 3 3 1 9 1 5 1 5 2 3 1"><path d="M139.86 441.2V336.1" stroke="#00b2ff" stroke-width="1.17"/><path d="M139.86 441.2V336.1" stroke="#00f0ff" stroke-width="0.45"/></g>
<g fill="none" filter="url(#b1)" opacity="0.9"><path d="M26.4 392.34H146.8" stroke="#00d6ff" stroke-width="0.95"/><path d="M26.4 392.34H146.8" stroke="#24ffdb" stroke-width="0.49"/></g>
<g fill="none" filter="url(#b1)" opacity="0.9"><path d="M26.4 410.82H146.8" stroke="#00dbff" stroke-width="1.23"/><path d="M26.4 410.82H146.8" stroke="#2effd1" stroke-width="0.72"/></g>
<g fill="none" filter="url(#b1)" opacity="0.8" stroke-dasharray="5 1 7 1 9 1 9 1 5 1 3 2"><path d="M26.4 416.98H146.8" stroke="#00b2ff" stroke-width="0.83"/><path d="M26.4 416.98H146.8" stroke="#00f0ff" stroke-width="0.32"/></g>
<g fill="none" filter="url(#b1)" opacity="0.8" stroke-dasharray="3 2 7 1 7 1 3 3 9 2 7 1"><path d="M26.4 428.06H146.8" stroke="#00b8ff" stroke-width="0.83"/><path d="M26.4 428.06H146.8" stroke="#00faff" stroke-width="0.32"/></g>
<g fill="none" filter="url(#b1)" opacity="0.95"><path d="M26.52 408.77L99.18 379.21" stroke="#00e0ff" stroke-width="1.13"/><path d="M26.52 408.77L99.18 379.21" stroke="#38ffc7" stroke-width="0.62"/></g>
<g fill="none" filter="url(#b1)" opacity="0.6" stroke-dasharray="9 1 3 3 3 1 5 1 5 1 5 2"><path d="M99.18 379.21L125.05 368.53" stroke="#00a8ff" stroke-width="0.83"/><path d="M99.18 379.21L125.05 368.53" stroke="#00dbff" stroke-width="0.32"/></g>
<g fill="none" filter="url(#b1)"><path d="M26.4 435.45H146.8" stroke="#08fff7" stroke-width="2.08"/><path d="M26.4 435.45H146.8" stroke="#5cffa3" stroke-width="1.73"/><path d="M26.4 435.45H146.8" stroke="#b0ff4f" stroke-width="1.44"/><path d="M26.4 435.45H146.8" stroke="#fffa00" stroke-width="1.22"/><path d="M26.4 435.45H146.8" stroke="#8aff75" stroke-width="1.22" stroke-dasharray="2 7 7 2 2 2 2 5 5 2" opacity="0.4"/></g>
<g fill="none" filter="url(#b1)"><path d="M65.08 441.2V336.1" stroke="#dfff20" stroke-width="1.53"/><path d="M65.08 441.2V336.1" stroke="#ffc000" stroke-width="1.25"/><path d="M65.08 441.2V336.1" stroke="#ff6100" stroke-width="1.03"/><path d="M65.08 441.2V336.1" stroke="#ffdb00" stroke-width="1.03" stroke-dasharray="5 7 5 2 3 1 7 3 2 4" opacity="0.4"/></g>
</g>
<text x="24.1" y="427.64" font-size="6.9" text-anchor="end" font-family='"Liberation Sans", Arial, sans-serif' fill="#262626">20</text>
<text x="24.1" y="411.22" font-size="6.9" text-anchor="end" font-family='"Liberation Sans", Arial, sans-serif' fill="#262626">40</text>
<text x="24.1" y="394.79" font-size="6.9" text-anchor="end" font-family='"Liberation Sans", Arial, sans-serif' fill="#262626">60</text>
<text x="24.1" y="378.37" font-size="6.9" text-anchor="end" font-family='"Liberation Sans", Arial, sans-serif' fill="#262626">80</text>
<text x="24.1" y="361.95" font-size="6.9" text-anchor="end" font-family='"Liberation Sans", Arial, sans-serif' fill="#262626">100</text>
<text x="24.1" y="345.53" font-size="6.9" text-anchor="end" font-family='"Liberation Sans", Arial, sans-serif' fill="#262626">120</text>
<text x="49.8" y="450.8" font-size="6.9" text-anchor="middle" font-family='"Liberation Sans", Arial, sans-serif' fill="#262626">100</text>
<text x="73.31" y="450.8" font-size="6.9" text-anchor="middle" font-family='"Liberation Sans", Arial, sans-serif' fill="#262626">200</text>
<text x="96.83" y="450.8" font-size="6.9" text-anchor="middle" font-family='"Liberation Sans", Arial, sans-serif' fill="#262626">300</text>
<text x="120.34" y="450.8" font-size="6.9" text-anchor="middle" font-family='"Liberation Sans", Arial, sans-serif' fill="#262626">400</text>
<text x="143.86" y="450.8" font-size="6.9" text-anchor="middle" font-family='"Liberation Sans", Arial, sans-serif' fill="#262626">500</text>
<text x="86.6" y="460.8" font-size="7.6" text-anchor="middle" font-family='"Liberation Sans", Arial, sans-serif' fill="#262626">Pulse number</text>
<text transform="translate(9.2 388.65) rotate(-90)" font-size="7.6" text-anchor="middle" font-family='"Liberation Sans", Arial, sans-serif' fill="#262626">Range bin</text>
<text x="89.3" y="475.2" font-size="8.3" text-anchor="middle" font-family='"Liberation Serif", "Times New Roman", serif' fill="#111">(g)</text>
<rect x="153.1" y="336.1" width="7.2" height="105.1" fill="url(#jet)"/>
<text x="162.3" y="443.4" font-size="6.2" text-anchor="start" font-family='"Liberation Sans", Arial, sans-serif' fill="#262626">30</text>
<text x="162.3" y="420.07" font-size="6.2" text-anchor="start" font-family='"Liberation Sans", Arial, sans-serif' fill="#262626">40</text>
<text x="162.3" y="396.74" font-size="6.2" text-anchor="start" font-family='"Liberation Sans", Arial, sans-serif' fill="#262626">50</text>
<text x="162.3" y="373.41" font-size="6.2" text-anchor="start" font-family='"Liberation Sans", Arial, sans-serif' fill="#262626">60</text>
<text x="162.3" y="350.08" font-size="6.2" text-anchor="start" font-family='"Liberation Sans", Arial, sans-serif' fill="#262626">70</text>
<text x="156.5" y="332.4" font-size="6" text-anchor="middle" font-family='"Liberation Sans", Arial, sans-serif' fill="#262626">dB</text>
<rect x="400.8" y="336.1" width="120.4" height="105.1" fill="#005cff"/>
<rect x="400.8" y="336.1" width="120.4" height="105.1" fill="#00f" filter="url(#ni)"/>
<g clip-path="url(#c22)">
<g fill="none" filter="url(#b1)" opacity="0.7" stroke-dasharray="7 2 9 1 9 1 3 3 7 1 7 3"><path d="M415.97 441.2V336.1" stroke="#00b2ff" stroke-width="1.17"/><path d="M415.97 441.2V336.1" stroke="#00f0ff" stroke-width="0.45"/></g>
<g fill="none" filter="url(#b1)" opacity="0.7" stroke-dasharray="9 1 5 1 7 2 5 3 3 3 9 1"><path d="M464.64 441.2V336.1" stroke="#00b2ff" stroke-width="1.17"/><path d="M464.64 441.2V336.1" stroke="#00f0ff" stroke-width="0.45"/></g>
<g fill="none" filter="url(#b1)" opacity="0.7" stroke-dasharray="9 3 9 2 9 3 7 1 3 3 3 2"><path d="M486.51 441.2V336.1" stroke="#00b2ff" stroke-width="1.17"/><path d="M486.51 441.2V336.1" stroke="#00f0ff" stroke-width="0.45"/></g>
<g fill="none" filter="url(#b1)" opacity="0.7" stroke-dasharray="5 2 7 3 7 1 5 3 9 1 7 1"><path d="M497.1 441.2V336.1" stroke="#00b2ff" stroke-width="1.17"/><path d="M497.1 441.2V336.1" stroke="#00f0ff" stroke-width="0.45"/></g>
<g fill="none" filter="url(#b1)" opacity="0.7" stroke-dasharray="5 3 3 1 9 1 5 1 5 2 3 1"><path d="M514.26 441.2V336.1" stroke="#00b2ff" stroke-width="1.17"/><path d="M514.26 441.2V336.1" stroke="#00f0ff" stroke-width="0.45"/></g>
<g fill="none" filter="url(#b1)"><path d="M439.48 441.2V336.1" stroke="#05fffa" stroke-width="1.56"/><path d="M439.48 441.2V336.1" stroke="#57ffa8" stroke-width="1.25"/><path d="M439.48 441.2V336.1" stroke="#a8ff57" stroke-width="0.98"/><path d="M439.48 441.2V336.1" stroke="#faff05" stroke-width="0.79"/><path d="M439.48 441.2V336.1" stroke="#80ff80" stroke-width="0.79" stroke-dasharray="7 5 2 2 3 7 2 3 2 2" opacity="0.4"/></g>
<polyline points="400.92,408.6 521.08,359.5" fill="none" stroke="#f0c040" stroke-width="1.7" opacity="0.45" stroke-linejoin="round"/>
<polyline points="400.92,409.1 435.96,409.26 471.23,409.01 490.04,408.44 521.08,408.52" fill="none" stroke="#000" stroke-width="1.2" opacity="1" stroke-linejoin="round"/>
<polyline points="400.92,408.6 521.08,359.5" fill="none" stroke="#e4501a" stroke-width="0.95" opacity="1" stroke-linejoin="round"/>
</g>
<text x="398.5" y="427.64" font-size="6.9" text-anchor="end" font-family='"Liberation Sans", Arial, sans-serif' fill="#262626">20</text>
<text x="398.5" y="411.22" font-size="6.9" text-anchor="end" font-family='"Liberation Sans", Arial, sans-serif' fill="#262626">40</text>
<text x="398.5" y="394.79" font-size="6.9" text-anchor="end" font-family='"Liberation Sans", Arial, sans-serif' fill="#262626">60</text>
<text x="398.5" y="378.37" font-size="6.9" text-anchor="end" font-family='"Liberation Sans", Arial, sans-serif' fill="#262626">80</text>
<text x="398.5" y="361.95" font-size="6.9" text-anchor="end" font-family='"Liberation Sans", Arial, sans-serif' fill="#262626">100</text>
<text x="398.5" y="345.53" font-size="6.9" text-anchor="end" font-family='"Liberation Sans", Arial, sans-serif' fill="#262626">120</text>
<text x="424.2" y="450.8" font-size="6.9" text-anchor="middle" font-family='"Liberation Sans", Arial, sans-serif' fill="#262626">100</text>
<text x="447.71" y="450.8" font-size="6.9" text-anchor="middle" font-family='"Liberation Sans", Arial, sans-serif' fill="#262626">200</text>
<text x="471.23" y="450.8" font-size="6.9" text-anchor="middle" font-family='"Liberation Sans", Arial, sans-serif' fill="#262626">300</text>
<text x="494.74" y="450.8" font-size="6.9" text-anchor="middle" font-family='"Liberation Sans", Arial, sans-serif' fill="#262626">400</text>
<text x="518.26" y="450.8" font-size="6.9" text-anchor="middle" font-family='"Liberation Sans", Arial, sans-serif' fill="#262626">500</text>
<text x="461" y="460.8" font-size="7.6" text-anchor="middle" font-family='"Liberation Sans", Arial, sans-serif' fill="#262626">Pulse number</text>
<text transform="translate(383.6 388.65) rotate(-90)" font-size="7.6" text-anchor="middle" font-family='"Liberation Sans", Arial, sans-serif' fill="#262626">Range bin</text>
<text x="463.7" y="475.2" font-size="8.3" text-anchor="middle" font-family='"Liberation Serif", "Times New Roman", serif' fill="#111">(i)</text>
<rect x="527.5" y="336.1" width="7.2" height="105.1" fill="url(#jet)"/>
<text x="536.7" y="443.4" font-size="6.2" text-anchor="start" font-family='"Liberation Sans", Arial, sans-serif' fill="#262626">30</text>
<text x="536.7" y="420.07" font-size="6.2" text-anchor="start" font-family='"Liberation Sans", Arial, sans-serif' fill="#262626">40</text>
<text x="536.7" y="396.74" font-size="6.2" text-anchor="start" font-family='"Liberation Sans", Arial, sans-serif' fill="#262626">50</text>
<text x="536.7" y="373.41" font-size="6.2" text-anchor="start" font-family='"Liberation Sans", Arial, sans-serif' fill="#262626">60</text>
<text x="536.7" y="350.08" font-size="6.2" text-anchor="start" font-family='"Liberation Sans", Arial, sans-serif' fill="#262626">70</text>
<text x="530.9" y="332.4" font-size="6" text-anchor="middle" font-family='"Liberation Sans", Arial, sans-serif' fill="#262626">dB</text>
<rect x="404.5" y="339.6" width="46.9" height="17" fill="#fff" stroke="#888" stroke-width="0.3"/>
<line x1="406" y1="344.05" x2="418.3" y2="344.05" stroke="#000" stroke-width="1.1"/>
<text x="419.5" y="346.25" font-size="6.2" text-anchor="start" font-family='"Liberation Sans", Arial, sans-serif' fill="#000">GRFT</text>
<line x1="406" y1="352.55" x2="418.3" y2="352.55" stroke="#e4501a" stroke-width="0.9"/>
<text x="419.5" y="354.75" font-size="6.2" text-anchor="start" font-family='"Liberation Sans", Arial, sans-serif' fill="#000">AFS-GRFT</text>
<path d="M233.17 10.5V115.6M255.45 10.5V115.6M277.74 10.5V115.6M300.02 10.5V115.6M322.3 10.5V115.6M344.59 10.5V115.6M212 28.02H353.5M212 45.53H353.5M212 63.05H353.5M212 80.57H353.5M212 98.08H353.5" stroke="#e4e4e4" stroke-width="0.5" fill="none"/>
<rect x="212" y="10.5" width="141.5" height="105.1" fill="none" stroke="#7a7a7a" stroke-width="0.45"/>
<text x="233.17" y="125.5" font-size="6.9" text-anchor="middle" font-family='"Liberation Sans", Arial, sans-serif' fill="#262626">20</text>
<text x="255.45" y="125.5" font-size="6.9" text-anchor="middle" font-family='"Liberation Sans", Arial, sans-serif' fill="#262626">40</text>
<text x="277.74" y="125.5" font-size="6.9" text-anchor="middle" font-family='"Liberation Sans", Arial, sans-serif' fill="#262626">60</text>
<text x="300.02" y="125.5" font-size="6.9" text-anchor="middle" font-family='"Liberation Sans", Arial, sans-serif' fill="#262626">80</text>
<text x="322.3" y="125.5" font-size="6.9" text-anchor="middle" font-family='"Liberation Sans", Arial, sans-serif' fill="#262626">100</text>
<text x="344.59" y="125.5" font-size="6.9" text-anchor="middle" font-family='"Liberation Sans", Arial, sans-serif' fill="#262626">120</text>
<text x="209.7" y="12.95" font-size="6.9" text-anchor="end" font-family='"Liberation Sans", Arial, sans-serif' fill="#262626">0</text>
<text x="209.7" y="30.47" font-size="6.9" text-anchor="end" font-family='"Liberation Sans", Arial, sans-serif' fill="#262626">-2</text>
<text x="209.7" y="47.98" font-size="6.9" text-anchor="end" font-family='"Liberation Sans", Arial, sans-serif' fill="#262626">-4</text>
<text x="209.7" y="65.5" font-size="6.9" text-anchor="end" font-family='"Liberation Sans", Arial, sans-serif' fill="#262626">-6</text>
<text x="209.7" y="83.02" font-size="6.9" text-anchor="end" font-family='"Liberation Sans", Arial, sans-serif' fill="#262626">-8</text>
<text x="209.7" y="100.53" font-size="6.9" text-anchor="end" font-family='"Liberation Sans", Arial, sans-serif' fill="#262626">-10</text>
<text x="209.7" y="118.05" font-size="6.9" text-anchor="end" font-family='"Liberation Sans", Arial, sans-serif' fill="#262626">-12</text>
<text x="282.75" y="135.5" font-size="7.75" text-anchor="middle" font-family='"Liberation Sans", Arial, sans-serif' fill="#262626">Candidate trajectory number</text>
<text transform="translate(196.4 63.45) rotate(-90)" font-size="7.78" text-anchor="middle" font-family='"Liberation Sans", Arial, sans-serif' fill="#262626">Normalized amplitude (dB)</text>
<text x="276.6" y="149.9" font-size="8.3" text-anchor="middle" font-family='"Liberation Serif", "Times New Roman", serif' fill="#111" font-weight="bold">(b)</text>
<g clip-path="url(#lp0)">
<polyline points="212,76.19 213.11,73.82 214.23,71.72 215.34,75.31 216.46,77.06 217.57,73.12 218.69,71.2 219.8,68.92 220.91,74.96 222.03,74.7 223.14,68.57 224.26,68.74 225.37,65.24 226.48,66.29 227.6,67.25 228.71,65.59 229.83,54.9 230.94,61.3 232.06,60.6 233.17,59.55 234.28,56.04 235.4,50.79 236.51,42.03 237.63,38.53 238.74,19.26 239.85,33.27 240.97,10.5 242.08,29.77 243.2,30.64 244.31,57.8 245.43,30.64 246.54,49.04 247.65,53.42 248.77,57.8 249.88,54.29 251,63.05 252.11,59.55 253.22,65.68 254.34,60.6 255.45,69.71 256.57,67.34 257.68,65.33 258.8,69.36 259.91,69.09 261.02,71.37 262.14,76.8 263.25,71.28 264.37,76.54 265.48,66.9 266.59,75.84 267.71,71.72 268.82,74.44 269.94,71.11 271.05,77.06 272.17,71.37 273.28,75.75 274.39,70.84 275.51,73.38 276.62,75.4 277.74,79.08 278.85,73.3 279.96,74.44 281.08,70.06 282.19,77.59 283.31,74.09 284.42,74.26 285.54,75.05 286.65,75.31 287.76,64.8 288.88,78.38 289.99,79.95 291.11,77.59 292.22,73.82 293.33,70.32 294.45,72.33 295.56,72.07 296.68,65.24 297.79,73.38 298.91,75.31 300.02,73.12 301.13,69.27 302.25,77.24 303.36,78.64 304.48,68.48 305.59,75.05 306.7,72.25 307.82,72.6 308.93,80.3 310.05,66.64 311.16,69.09 312.28,75.22 313.39,73.03 314.5,75.4 315.62,79.34 316.73,76.36 317.85,74.44 318.96,71.55 320.07,73.12 321.19,75.66 322.3,70.58 323.42,68.3 324.53,58.67 325.65,79.69 326.76,76.98 327.87,82.84 328.99,79.34 330.1,74.87 331.22,73.74 332.33,67.43 333.44,79.69 334.56,75.75 335.67,73.21 336.79,68.3 337.9,85.03 339.02,72.6 340.13,67.78 341.24,74 342.36,82.67 343.47,77.94 344.59,80.57 345.7,77.06 346.81,81.44 347.93,84.07 349.04,85.82 350.16,84.95 351.27,83.19 352.39,81.44 353.5,79.69" fill="none" stroke="#0072bd" stroke-width="1.25" stroke-linejoin="round"/>
<path d="M210.65 74.84h2.7v2.7h-2.7zM211.76 72.47h2.7v2.7h-2.7zM212.88 70.37h2.7v2.7h-2.7zM213.99 73.96h2.7v2.7h-2.7zM215.11 75.71h2.7v2.7h-2.7zM216.22 71.77h2.7v2.7h-2.7zM217.34 69.85h2.7v2.7h-2.7zM218.45 67.57h2.7v2.7h-2.7zM219.56 73.61h2.7v2.7h-2.7zM220.68 73.35h2.7v2.7h-2.7zM221.79 67.22h2.7v2.7h-2.7zM222.91 67.39h2.7v2.7h-2.7zM224.02 63.89h2.7v2.7h-2.7zM225.13 64.94h2.7v2.7h-2.7zM226.25 65.9h2.7v2.7h-2.7zM227.36 64.24h2.7v2.7h-2.7zM228.48 53.55h2.7v2.7h-2.7zM229.59 59.95h2.7v2.7h-2.7zM230.71 59.25h2.7v2.7h-2.7zM231.82 58.2h2.7v2.7h-2.7zM232.93 54.69h2.7v2.7h-2.7zM234.05 49.44h2.7v2.7h-2.7zM235.16 40.68h2.7v2.7h-2.7zM236.28 37.18h2.7v2.7h-2.7zM237.39 17.91h2.7v2.7h-2.7zM238.5 31.92h2.7v2.7h-2.7zM239.62 9.15h2.7v2.7h-2.7zM240.73 28.42h2.7v2.7h-2.7zM241.85 29.29h2.7v2.7h-2.7zM242.96 56.45h2.7v2.7h-2.7zM244.08 29.29h2.7v2.7h-2.7zM245.19 47.69h2.7v2.7h-2.7zM246.3 52.07h2.7v2.7h-2.7zM247.42 56.45h2.7v2.7h-2.7zM248.53 52.94h2.7v2.7h-2.7zM249.65 61.7h2.7v2.7h-2.7zM250.76 58.2h2.7v2.7h-2.7zM251.87 64.33h2.7v2.7h-2.7zM252.99 59.25h2.7v2.7h-2.7zM254.1 68.36h2.7v2.7h-2.7zM255.22 65.99h2.7v2.7h-2.7zM256.33 63.98h2.7v2.7h-2.7zM257.45 68.01h2.7v2.7h-2.7zM258.56 67.74h2.7v2.7h-2.7zM259.67 70.02h2.7v2.7h-2.7zM260.79 75.45h2.7v2.7h-2.7zM261.9 69.93h2.7v2.7h-2.7zM263.02 75.19h2.7v2.7h-2.7zM264.13 65.55h2.7v2.7h-2.7zM265.24 74.49h2.7v2.7h-2.7zM266.36 70.37h2.7v2.7h-2.7zM267.47 73.09h2.7v2.7h-2.7zM268.59 69.76h2.7v2.7h-2.7zM269.7 75.71h2.7v2.7h-2.7zM270.82 70.02h2.7v2.7h-2.7zM271.93 74.4h2.7v2.7h-2.7zM273.04 69.49h2.7v2.7h-2.7zM274.16 72.03h2.7v2.7h-2.7zM275.27 74.05h2.7v2.7h-2.7zM276.39 77.73h2.7v2.7h-2.7zM277.5 71.95h2.7v2.7h-2.7zM278.61 73.09h2.7v2.7h-2.7zM279.73 68.71h2.7v2.7h-2.7zM280.84 76.24h2.7v2.7h-2.7zM281.96 72.74h2.7v2.7h-2.7zM283.07 72.91h2.7v2.7h-2.7zM284.19 73.7h2.7v2.7h-2.7zM285.3 73.96h2.7v2.7h-2.7zM286.41 63.45h2.7v2.7h-2.7zM287.53 77.03h2.7v2.7h-2.7zM288.64 78.6h2.7v2.7h-2.7zM289.76 76.24h2.7v2.7h-2.7zM290.87 72.47h2.7v2.7h-2.7zM291.98 68.97h2.7v2.7h-2.7zM293.1 70.98h2.7v2.7h-2.7zM294.21 70.72h2.7v2.7h-2.7zM295.33 63.89h2.7v2.7h-2.7zM296.44 72.03h2.7v2.7h-2.7zM297.56 73.96h2.7v2.7h-2.7zM298.67 71.77h2.7v2.7h-2.7zM299.78 67.92h2.7v2.7h-2.7zM300.9 75.89h2.7v2.7h-2.7zM302.01 77.29h2.7v2.7h-2.7zM303.13 67.13h2.7v2.7h-2.7zM304.24 73.7h2.7v2.7h-2.7zM305.35 70.9h2.7v2.7h-2.7zM306.47 71.25h2.7v2.7h-2.7zM307.58 78.95h2.7v2.7h-2.7zM308.7 65.29h2.7v2.7h-2.7zM309.81 67.74h2.7v2.7h-2.7zM310.93 73.87h2.7v2.7h-2.7zM312.04 71.68h2.7v2.7h-2.7zM313.15 74.05h2.7v2.7h-2.7zM314.27 77.99h2.7v2.7h-2.7zM315.38 75.01h2.7v2.7h-2.7zM316.5 73.09h2.7v2.7h-2.7zM317.61 70.2h2.7v2.7h-2.7zM318.72 71.77h2.7v2.7h-2.7zM319.84 74.31h2.7v2.7h-2.7zM320.95 69.23h2.7v2.7h-2.7zM322.07 66.95h2.7v2.7h-2.7zM323.18 57.32h2.7v2.7h-2.7zM324.3 78.34h2.7v2.7h-2.7zM325.41 75.63h2.7v2.7h-2.7zM326.52 81.49h2.7v2.7h-2.7zM327.64 77.99h2.7v2.7h-2.7zM328.75 73.52h2.7v2.7h-2.7zM329.87 72.39h2.7v2.7h-2.7zM330.98 66.08h2.7v2.7h-2.7zM332.09 78.34h2.7v2.7h-2.7zM333.21 74.4h2.7v2.7h-2.7zM334.32 71.86h2.7v2.7h-2.7zM335.44 66.95h2.7v2.7h-2.7zM336.55 83.68h2.7v2.7h-2.7zM337.67 71.25h2.7v2.7h-2.7zM338.78 66.43h2.7v2.7h-2.7zM339.89 72.65h2.7v2.7h-2.7zM341.01 81.32h2.7v2.7h-2.7zM342.12 76.59h2.7v2.7h-2.7zM343.24 79.22h2.7v2.7h-2.7zM344.35 75.71h2.7v2.7h-2.7zM345.46 80.09h2.7v2.7h-2.7zM346.58 82.72h2.7v2.7h-2.7zM347.69 84.47h2.7v2.7h-2.7zM348.81 83.6h2.7v2.7h-2.7zM349.92 81.84h2.7v2.7h-2.7zM351.04 80.09h2.7v2.7h-2.7zM352.15 78.34h2.7v2.7h-2.7z" fill="#0072bd"/>
<polyline points="212,83.19 213.11,81.27 214.23,78.46 215.34,82.32 216.46,82.93 217.57,86.7 218.69,87.66 219.8,73.91 220.91,75.49 222.03,76.01 223.14,77.68 224.26,74.52 225.37,74.35 226.48,83.19 227.6,80.39 228.71,79.6 229.83,45.53 230.94,68.3 232.06,71.81 233.17,61.3 234.28,69.18 235.4,58.67 236.51,45.53 237.63,41.15 238.74,29.77 239.85,54.29 240.97,10.5 242.08,49.91 243.2,52.54 244.31,49.91 245.43,45.53 246.54,43.78 247.65,68.3 248.77,54.29 249.88,71.81 251,66.99 252.11,59.55 253.22,83.19 254.34,58.93 255.45,63.58 256.57,74.61 257.68,72.51 258.8,73.74 259.91,74.61 261.02,75.57 262.14,80.13 263.25,97.21 264.37,80.39 265.48,97.38 266.59,83.72 267.71,84.07 268.82,92.22 269.94,105.97 271.05,96.07 272.17,82.93 273.28,94.05 274.39,89.85 275.51,95.11 276.62,97.82 277.74,82.49 278.85,85.03 279.96,95.63 281.08,95.37 282.19,99.66 283.31,92.04 284.42,90.03 285.54,89.85 286.65,102.55 287.76,101.85 288.88,109.21 289.99,101.67 291.11,101.41 292.22,109.29 293.33,109.99 294.45,97.91 295.56,106.4 296.68,102.99 297.79,84.95 298.91,111.48 300.02,115.6 301.13,114.72 302.25,111.57 303.36,114.72 304.48,108.59 305.59,106.58 306.7,93.7 307.82,73.56 308.93,84.07 310.05,101.59 311.16,85.82 312.28,94.58 313.39,106.84 314.5,80.57 315.62,84.07 316.73,100.71 317.85,87.57 318.96,93.7 320.07,99.83 321.19,88.45 322.3,113.85 323.42,96.33 324.53,84.07 325.65,80.57 326.76,89.32 327.87,85.82 328.99,88.45 330.1,94.58 331.22,83.19 332.33,81.44 333.44,98.08 334.56,120.86 335.67,97.21 336.79,103.34 337.9,91.95 339.02,105.97 340.13,124.36 341.24,94.58 342.36,99.83 343.47,133.12 344.59,168.15 345.7,168.15 346.81,168.15 347.93,168.15 349.04,168.15 350.16,168.15 351.27,168.15 352.39,168.15 353.5,168.15" fill="none" stroke="#d95319" stroke-width="1.25" stroke-linejoin="round"/>
<path d="M210.65 81.84h2.7v2.7h-2.7zM211.76 79.92h2.7v2.7h-2.7zM212.88 77.11h2.7v2.7h-2.7zM213.99 80.97h2.7v2.7h-2.7zM215.11 81.58h2.7v2.7h-2.7zM216.22 85.35h2.7v2.7h-2.7zM217.34 86.31h2.7v2.7h-2.7zM218.45 72.56h2.7v2.7h-2.7zM219.56 74.14h2.7v2.7h-2.7zM220.68 74.66h2.7v2.7h-2.7zM221.79 76.33h2.7v2.7h-2.7zM222.91 73.17h2.7v2.7h-2.7zM224.02 73h2.7v2.7h-2.7zM225.13 81.84h2.7v2.7h-2.7zM226.25 79.04h2.7v2.7h-2.7zM227.36 78.25h2.7v2.7h-2.7zM228.48 44.18h2.7v2.7h-2.7zM229.59 66.95h2.7v2.7h-2.7zM230.71 70.46h2.7v2.7h-2.7zM231.82 59.95h2.7v2.7h-2.7zM232.93 67.83h2.7v2.7h-2.7zM234.05 57.32h2.7v2.7h-2.7zM235.16 44.18h2.7v2.7h-2.7zM236.28 39.8h2.7v2.7h-2.7zM237.39 28.42h2.7v2.7h-2.7zM238.5 52.94h2.7v2.7h-2.7zM239.62 9.15h2.7v2.7h-2.7zM240.73 48.56h2.7v2.7h-2.7zM241.85 51.19h2.7v2.7h-2.7zM242.96 48.56h2.7v2.7h-2.7zM244.08 44.18h2.7v2.7h-2.7zM245.19 42.43h2.7v2.7h-2.7zM246.3 66.95h2.7v2.7h-2.7zM247.42 52.94h2.7v2.7h-2.7zM248.53 70.46h2.7v2.7h-2.7zM249.65 65.64h2.7v2.7h-2.7zM250.76 58.2h2.7v2.7h-2.7zM251.87 81.84h2.7v2.7h-2.7zM252.99 57.58h2.7v2.7h-2.7zM254.1 62.23h2.7v2.7h-2.7zM255.22 73.26h2.7v2.7h-2.7zM256.33 71.16h2.7v2.7h-2.7zM257.45 72.39h2.7v2.7h-2.7zM258.56 73.26h2.7v2.7h-2.7zM259.67 74.22h2.7v2.7h-2.7zM260.79 78.78h2.7v2.7h-2.7zM261.9 95.86h2.7v2.7h-2.7zM263.02 79.04h2.7v2.7h-2.7zM264.13 96.03h2.7v2.7h-2.7zM265.24 82.37h2.7v2.7h-2.7zM266.36 82.72h2.7v2.7h-2.7zM267.47 90.87h2.7v2.7h-2.7zM268.59 104.62h2.7v2.7h-2.7zM269.7 94.72h2.7v2.7h-2.7zM270.82 81.58h2.7v2.7h-2.7zM271.93 92.7h2.7v2.7h-2.7zM273.04 88.5h2.7v2.7h-2.7zM274.16 93.76h2.7v2.7h-2.7zM275.27 96.47h2.7v2.7h-2.7zM276.39 81.14h2.7v2.7h-2.7zM277.5 83.68h2.7v2.7h-2.7zM278.61 94.28h2.7v2.7h-2.7zM279.73 94.02h2.7v2.7h-2.7zM280.84 98.31h2.7v2.7h-2.7zM281.96 90.69h2.7v2.7h-2.7zM283.07 88.68h2.7v2.7h-2.7zM284.19 88.5h2.7v2.7h-2.7zM285.3 101.2h2.7v2.7h-2.7zM286.41 100.5h2.7v2.7h-2.7zM287.53 107.86h2.7v2.7h-2.7zM288.64 100.32h2.7v2.7h-2.7zM289.76 100.06h2.7v2.7h-2.7zM290.87 107.94h2.7v2.7h-2.7zM291.98 108.64h2.7v2.7h-2.7zM293.1 96.56h2.7v2.7h-2.7zM294.21 105.05h2.7v2.7h-2.7zM295.33 101.64h2.7v2.7h-2.7zM296.44 83.6h2.7v2.7h-2.7zM297.56 110.13h2.7v2.7h-2.7zM298.67 114.25h2.7v2.7h-2.7zM299.78 113.37h2.7v2.7h-2.7zM300.9 110.22h2.7v2.7h-2.7zM302.01 113.37h2.7v2.7h-2.7zM303.13 107.24h2.7v2.7h-2.7zM304.24 105.23h2.7v2.7h-2.7zM305.35 92.35h2.7v2.7h-2.7zM306.47 72.21h2.7v2.7h-2.7zM307.58 82.72h2.7v2.7h-2.7zM308.7 100.24h2.7v2.7h-2.7zM309.81 84.47h2.7v2.7h-2.7zM310.93 93.23h2.7v2.7h-2.7zM312.04 105.49h2.7v2.7h-2.7zM313.15 79.22h2.7v2.7h-2.7zM314.27 82.72h2.7v2.7h-2.7zM315.38 99.36h2.7v2.7h-2.7zM316.5 86.22h2.7v2.7h-2.7zM317.61 92.35h2.7v2.7h-2.7zM318.72 98.48h2.7v2.7h-2.7zM319.84 87.1h2.7v2.7h-2.7zM320.95 112.5h2.7v2.7h-2.7zM322.07 94.98h2.7v2.7h-2.7zM323.18 82.72h2.7v2.7h-2.7zM324.3 79.22h2.7v2.7h-2.7zM325.41 87.97h2.7v2.7h-2.7zM326.52 84.47h2.7v2.7h-2.7zM327.64 87.1h2.7v2.7h-2.7zM328.75 93.23h2.7v2.7h-2.7zM329.87 81.84h2.7v2.7h-2.7zM330.98 80.09h2.7v2.7h-2.7zM332.09 96.73h2.7v2.7h-2.7zM334.32 95.86h2.7v2.7h-2.7zM335.44 101.99h2.7v2.7h-2.7zM336.55 90.6h2.7v2.7h-2.7zM337.67 104.62h2.7v2.7h-2.7zM339.89 93.23h2.7v2.7h-2.7zM341.01 98.48h2.7v2.7h-2.7z" fill="#d95319"/>
<line x1="240.97" y1="115.6" x2="240.97" y2="10.5" stroke="#2ee02e" stroke-width="0.9" stroke-dasharray="2.6 1.9"/>
</g>
<rect x="302.3" y="14.5" width="47.6" height="25.4" fill="#fff" stroke="#666" stroke-width="0.35"/>
<line x1="303.9" y1="19.1" x2="316.8" y2="19.1" stroke="#0072bd" stroke-width="1.0"/>
<rect x="309.15" y="17.9" width="2.4" height="2.4" fill="#0072bd"/>
<text x="318.1" y="21.3" font-size="6.1" text-anchor="start" font-family='"Liberation Sans", Arial, sans-serif' fill="#000">GRFT</text>
<line x1="303.9" y1="26.95" x2="316.8" y2="26.95" stroke="#d95319" stroke-width="1.0"/>
<rect x="309.15" y="25.75" width="2.4" height="2.4" fill="#d95319"/>
<text x="318.1" y="29.15" font-size="6.1" text-anchor="start" font-family='"Liberation Sans", Arial, sans-serif' fill="#000">AFS-GRFT</text>
<line x1="303.9" y1="34.8" x2="316.8" y2="34.8" stroke="#2ee02e" stroke-width="1.0" stroke-dasharray="2.6 1.9"/>
<text x="318.1" y="37" font-size="6.1" text-anchor="start" font-family='"Liberation Sans", Arial, sans-serif' fill="#000">Actual</text>
<path d="M233.17 173.5V278.6M255.45 173.5V278.6M277.74 173.5V278.6M300.02 173.5V278.6M322.3 173.5V278.6M344.59 173.5V278.6M212 194.52H353.5M212 215.54H353.5M212 236.56H353.5M212 257.58H353.5" stroke="#e4e4e4" stroke-width="0.5" fill="none"/>
<rect x="212" y="173.5" width="141.5" height="105.1" fill="none" stroke="#7a7a7a" stroke-width="0.45"/>
<text x="233.17" y="288.5" font-size="6.9" text-anchor="middle" font-family='"Liberation Sans", Arial, sans-serif' fill="#262626">20</text>
<text x="255.45" y="288.5" font-size="6.9" text-anchor="middle" font-family='"Liberation Sans", Arial, sans-serif' fill="#262626">40</text>
<text x="277.74" y="288.5" font-size="6.9" text-anchor="middle" font-family='"Liberation Sans", Arial, sans-serif' fill="#262626">60</text>
<text x="300.02" y="288.5" font-size="6.9" text-anchor="middle" font-family='"Liberation Sans", Arial, sans-serif' fill="#262626">80</text>
<text x="322.3" y="288.5" font-size="6.9" text-anchor="middle" font-family='"Liberation Sans", Arial, sans-serif' fill="#262626">100</text>
<text x="344.59" y="288.5" font-size="6.9" text-anchor="middle" font-family='"Liberation Sans", Arial, sans-serif' fill="#262626">120</text>
<text x="209.7" y="175.95" font-size="6.9" text-anchor="end" font-family='"Liberation Sans", Arial, sans-serif' fill="#262626">0</text>
<text x="209.7" y="196.97" font-size="6.9" text-anchor="end" font-family='"Liberation Sans", Arial, sans-serif' fill="#262626">-2</text>
<text x="209.7" y="217.99" font-size="6.9" text-anchor="end" font-family='"Liberation Sans", Arial, sans-serif' fill="#262626">-4</text>
<text x="209.7" y="239.01" font-size="6.9" text-anchor="end" font-family='"Liberation Sans", Arial, sans-serif' fill="#262626">-6</text>
<text x="209.7" y="260.03" font-size="6.9" text-anchor="end" font-family='"Liberation Sans", Arial, sans-serif' fill="#262626">-8</text>
<text x="209.7" y="281.05" font-size="6.9" text-anchor="end" font-family='"Liberation Sans", Arial, sans-serif' fill="#262626">-10</text>
<text x="282.75" y="298.5" font-size="7.75" text-anchor="middle" font-family='"Liberation Sans", Arial, sans-serif' fill="#262626">Candidate trajectory number</text>
<text transform="translate(196.4 226.45) rotate(-90)" font-size="7.78" text-anchor="middle" font-family='"Liberation Sans", Arial, sans-serif' fill="#262626">Normalized amplitude (dB)</text>
<text x="276.6" y="312.9" font-size="8.3" text-anchor="middle" font-family='"Liberation Serif", "Times New Roman", serif' fill="#111" font-weight="bold">(e)</text>
<g clip-path="url(#lp1)">
<polyline points="212,248.65 213.11,239.71 214.23,232.36 215.34,228.15 216.46,234.04 217.57,242.97 218.69,228.78 219.8,232.57 220.91,227.63 222.03,235.51 223.14,231.73 224.26,234.67 225.37,236.56 226.48,232.78 227.6,238.77 228.71,234.88 229.83,232.36 230.94,215.54 232.06,178.75 233.17,173.5 234.28,209.23 235.4,226.05 236.51,234.46 237.63,236.56 238.74,237.4 239.85,237.51 240.97,227.63 242.08,236.45 243.2,236.03 244.31,234.14 245.43,228.68 246.54,238.56 247.65,240.55 248.77,227.42 249.88,244.76 251,240.24 252.11,236.03 253.22,229.31 254.34,243.6 255.45,250.22 256.57,236.77 257.68,241.81 258.8,241.18 259.91,237.4 261.02,238.35 262.14,238.03 263.25,228.15 264.37,226.05 265.48,236.56 266.59,238.87 267.71,240.97 268.82,235.61 269.94,236.67 271.05,243.29 272.17,240.66 273.28,233.93 274.39,238.98 275.51,231.31 276.62,237.4 277.74,238.45 278.85,238.24 279.96,246.65 281.08,230.46 282.19,237.19 283.31,241.81 284.42,233.62 285.54,236.45 286.65,237.72 287.76,233.2 288.88,227.84 289.99,234.04 291.11,221.85 292.22,225 293.33,219.74 294.45,227.1 295.56,227 296.68,238.56 297.79,233.51 298.91,227.94 300.02,230.04 301.13,233.09 302.25,244.44 303.36,226.68 304.48,234.14 305.59,233.2 306.7,234.35 307.82,243.39 308.93,242.24 310.05,241.18 311.16,228.36 312.28,239.5 313.39,237.09 314.5,237.09 315.62,233.72 316.73,233.93 317.85,234.88 318.96,240.97 320.07,248.44 321.19,235.09 322.3,229.2 323.42,230.78 324.53,236.03 325.65,238.03 326.76,233.93 327.87,241.6 328.99,239.5 330.1,230.25 331.22,220.8 332.33,232.36 333.44,232.36 334.56,230.78 335.67,234.25 336.79,234.04 337.9,236.77 339.02,236.14 340.13,229.73 341.24,239.5 342.36,239.82 343.47,231.73 344.59,232.36 345.7,230.46 346.81,228.89 347.93,235.82 349.04,230.67 350.16,227.31 351.27,234.56 352.39,232.36 353.5,233.93" fill="none" stroke="#0072bd" stroke-width="1.25" stroke-linejoin="round"/>
<path d="M210.65 247.3h2.7v2.7h-2.7zM211.76 238.36h2.7v2.7h-2.7zM212.88 231.01h2.7v2.7h-2.7zM213.99 226.8h2.7v2.7h-2.7zM215.11 232.69h2.7v2.7h-2.7zM216.22 241.62h2.7v2.7h-2.7zM217.34 227.43h2.7v2.7h-2.7zM218.45 231.22h2.7v2.7h-2.7zM219.56 226.28h2.7v2.7h-2.7zM220.68 234.16h2.7v2.7h-2.7zM221.79 230.38h2.7v2.7h-2.7zM222.91 233.32h2.7v2.7h-2.7zM224.02 235.21h2.7v2.7h-2.7zM225.13 231.43h2.7v2.7h-2.7zM226.25 237.42h2.7v2.7h-2.7zM227.36 233.53h2.7v2.7h-2.7zM228.48 231.01h2.7v2.7h-2.7zM229.59 214.19h2.7v2.7h-2.7zM230.71 177.41h2.7v2.7h-2.7zM231.82 172.15h2.7v2.7h-2.7zM232.93 207.88h2.7v2.7h-2.7zM234.05 224.7h2.7v2.7h-2.7zM235.16 233.11h2.7v2.7h-2.7zM236.28 235.21h2.7v2.7h-2.7zM237.39 236.05h2.7v2.7h-2.7zM238.5 236.16h2.7v2.7h-2.7zM239.62 226.28h2.7v2.7h-2.7zM240.73 235.1h2.7v2.7h-2.7zM241.85 234.68h2.7v2.7h-2.7zM242.96 232.79h2.7v2.7h-2.7zM244.08 227.33h2.7v2.7h-2.7zM245.19 237.21h2.7v2.7h-2.7zM246.3 239.2h2.7v2.7h-2.7zM247.42 226.07h2.7v2.7h-2.7zM248.53 243.41h2.7v2.7h-2.7zM249.65 238.89h2.7v2.7h-2.7zM250.76 234.68h2.7v2.7h-2.7zM251.87 227.96h2.7v2.7h-2.7zM252.99 242.25h2.7v2.7h-2.7zM254.1 248.87h2.7v2.7h-2.7zM255.22 235.42h2.7v2.7h-2.7zM256.33 240.47h2.7v2.7h-2.7zM257.45 239.83h2.7v2.7h-2.7zM258.56 236.05h2.7v2.7h-2.7zM259.67 237h2.7v2.7h-2.7zM260.79 236.68h2.7v2.7h-2.7zM261.9 226.8h2.7v2.7h-2.7zM263.02 224.7h2.7v2.7h-2.7zM264.13 235.21h2.7v2.7h-2.7zM265.24 237.52h2.7v2.7h-2.7zM266.36 239.62h2.7v2.7h-2.7zM267.47 234.26h2.7v2.7h-2.7zM268.59 235.32h2.7v2.7h-2.7zM269.7 241.94h2.7v2.7h-2.7zM270.82 239.31h2.7v2.7h-2.7zM271.93 232.58h2.7v2.7h-2.7zM273.04 237.63h2.7v2.7h-2.7zM274.16 229.96h2.7v2.7h-2.7zM275.27 236.05h2.7v2.7h-2.7zM276.39 237.1h2.7v2.7h-2.7zM277.5 236.89h2.7v2.7h-2.7zM278.61 245.3h2.7v2.7h-2.7zM279.73 229.11h2.7v2.7h-2.7zM280.84 235.84h2.7v2.7h-2.7zM281.96 240.47h2.7v2.7h-2.7zM283.07 232.27h2.7v2.7h-2.7zM284.19 235.1h2.7v2.7h-2.7zM285.3 236.37h2.7v2.7h-2.7zM286.41 231.85h2.7v2.7h-2.7zM287.53 226.49h2.7v2.7h-2.7zM288.64 232.69h2.7v2.7h-2.7zM289.76 220.5h2.7v2.7h-2.7zM290.87 223.65h2.7v2.7h-2.7zM291.98 218.39h2.7v2.7h-2.7zM293.1 225.75h2.7v2.7h-2.7zM294.21 225.65h2.7v2.7h-2.7zM295.33 237.21h2.7v2.7h-2.7zM296.44 232.16h2.7v2.7h-2.7zM297.56 226.59h2.7v2.7h-2.7zM298.67 228.69h2.7v2.7h-2.7zM299.78 231.74h2.7v2.7h-2.7zM300.9 243.09h2.7v2.7h-2.7zM302.01 225.33h2.7v2.7h-2.7zM303.13 232.79h2.7v2.7h-2.7zM304.24 231.85h2.7v2.7h-2.7zM305.35 233h2.7v2.7h-2.7zM306.47 242.04h2.7v2.7h-2.7zM307.58 240.89h2.7v2.7h-2.7zM308.7 239.83h2.7v2.7h-2.7zM309.81 227.01h2.7v2.7h-2.7zM310.93 238.15h2.7v2.7h-2.7zM312.04 235.74h2.7v2.7h-2.7zM313.15 235.74h2.7v2.7h-2.7zM314.27 232.37h2.7v2.7h-2.7zM315.38 232.58h2.7v2.7h-2.7zM316.5 233.53h2.7v2.7h-2.7zM317.61 239.62h2.7v2.7h-2.7zM318.72 247.09h2.7v2.7h-2.7zM319.84 233.74h2.7v2.7h-2.7zM320.95 227.85h2.7v2.7h-2.7zM322.07 229.43h2.7v2.7h-2.7zM323.18 234.68h2.7v2.7h-2.7zM324.3 236.68h2.7v2.7h-2.7zM325.41 232.58h2.7v2.7h-2.7zM326.52 240.25h2.7v2.7h-2.7zM327.64 238.15h2.7v2.7h-2.7zM328.75 228.9h2.7v2.7h-2.7zM329.87 219.45h2.7v2.7h-2.7zM330.98 231.01h2.7v2.7h-2.7zM332.09 231.01h2.7v2.7h-2.7zM333.21 229.43h2.7v2.7h-2.7zM334.32 232.9h2.7v2.7h-2.7zM335.44 232.69h2.7v2.7h-2.7zM336.55 235.42h2.7v2.7h-2.7zM337.67 234.79h2.7v2.7h-2.7zM338.78 228.38h2.7v2.7h-2.7zM339.89 238.15h2.7v2.7h-2.7zM341.01 238.47h2.7v2.7h-2.7zM342.12 230.38h2.7v2.7h-2.7zM343.24 231.01h2.7v2.7h-2.7zM344.35 229.11h2.7v2.7h-2.7zM345.46 227.54h2.7v2.7h-2.7zM346.58 234.47h2.7v2.7h-2.7zM347.69 229.32h2.7v2.7h-2.7zM348.81 225.96h2.7v2.7h-2.7zM349.92 233.21h2.7v2.7h-2.7zM351.04 231.01h2.7v2.7h-2.7zM352.15 232.58h2.7v2.7h-2.7z" fill="#0072bd"/>
<polyline points="212,238.66 213.11,231.31 214.23,246.02 215.34,213.96 216.46,200.83 217.57,192.42 218.69,191.37 219.8,232.36 220.91,250.22 222.03,209.23 223.14,210.28 224.26,242.87 225.37,196.62 226.48,207.13 227.6,173.5 228.71,206.08 229.83,207.13 230.94,184.01 232.06,211.34 233.17,221.85 234.28,205.03 235.4,206.08 236.51,228.15 237.63,219.74 238.74,230.25 239.85,206.08 240.97,227.1 242.08,220.8 243.2,219.74 244.31,246.02 245.43,254.43 246.54,239.71 247.65,252.33 248.77,255.48 249.88,234.46 251,238.56 252.11,247.28 253.22,247.49 254.34,236.77 255.45,230.88 256.57,239.82 257.68,247.28 258.8,237.09 259.91,235.19 261.02,250.96 262.14,237.51 263.25,249.49 264.37,242.55 265.48,239.29 266.59,242.34 267.71,253.48 268.82,240.03 269.94,253.06 271.05,237.72 272.17,256.84 273.28,246.44 274.39,246.44 275.51,248.12 276.62,241.18 277.74,240.76 278.85,260.73 279.96,239.29 281.08,232.15 282.19,248.75 283.31,228.26 284.42,225 285.54,226.05 286.65,218.59 287.76,240.03 288.88,243.6 289.99,237.3 291.11,209.23 292.22,201.46 293.33,214.49 294.45,219.74 295.56,232.36 296.68,237.4 297.79,256.74 298.91,251.48 300.02,234.25 301.13,219.74 302.25,251.27 303.36,268.09 304.48,263.89 305.59,289.11 306.7,247.07 307.82,226.05 308.93,219.95 310.05,217.64 311.16,218.69 312.28,236.56 313.39,270.19 314.5,223.95 315.62,240.76 316.73,284.91 317.85,220.8 318.96,228.15 320.07,263.89 321.19,261.78 322.3,267.04 323.42,274.4 324.53,255.48 325.65,269.14 326.76,299.62 327.87,232.36 328.99,287.01 330.1,299.62 331.22,229.2 332.33,240.76 333.44,289.11 334.56,299.62 335.67,236.56 336.79,234.46 337.9,294.37 339.02,238.66 340.13,230.25 341.24,242.87 342.36,294.37 343.47,232.36 344.59,241.81 345.7,268.09 346.81,227.1 347.93,275.45 349.04,277.55 350.16,299.62 351.27,236.56 352.39,232.36 353.5,235.51" fill="none" stroke="#d95319" stroke-width="1.25" stroke-linejoin="round"/>
<path d="M210.65 237.31h2.7v2.7h-2.7zM211.76 229.96h2.7v2.7h-2.7zM212.88 244.67h2.7v2.7h-2.7zM213.99 212.61h2.7v2.7h-2.7zM215.11 199.48h2.7v2.7h-2.7zM216.22 191.07h2.7v2.7h-2.7zM217.34 190.02h2.7v2.7h-2.7zM218.45 231.01h2.7v2.7h-2.7zM219.56 248.87h2.7v2.7h-2.7zM220.68 207.88h2.7v2.7h-2.7zM221.79 208.94h2.7v2.7h-2.7zM222.91 241.52h2.7v2.7h-2.7zM224.02 195.27h2.7v2.7h-2.7zM225.13 205.78h2.7v2.7h-2.7zM226.25 172.15h2.7v2.7h-2.7zM227.36 204.73h2.7v2.7h-2.7zM228.48 205.78h2.7v2.7h-2.7zM229.59 182.66h2.7v2.7h-2.7zM230.71 209.99h2.7v2.7h-2.7zM231.82 220.5h2.7v2.7h-2.7zM232.93 203.68h2.7v2.7h-2.7zM234.05 204.73h2.7v2.7h-2.7zM235.16 226.8h2.7v2.7h-2.7zM236.28 218.39h2.7v2.7h-2.7zM237.39 228.9h2.7v2.7h-2.7zM238.5 204.73h2.7v2.7h-2.7zM239.62 225.75h2.7v2.7h-2.7zM240.73 219.45h2.7v2.7h-2.7zM241.85 218.39h2.7v2.7h-2.7zM242.96 244.67h2.7v2.7h-2.7zM244.08 253.08h2.7v2.7h-2.7zM245.19 238.36h2.7v2.7h-2.7zM246.3 250.98h2.7v2.7h-2.7zM247.42 254.13h2.7v2.7h-2.7zM248.53 233.11h2.7v2.7h-2.7zM249.65 237.21h2.7v2.7h-2.7zM250.76 245.93h2.7v2.7h-2.7zM251.87 246.14h2.7v2.7h-2.7zM252.99 235.42h2.7v2.7h-2.7zM254.1 229.53h2.7v2.7h-2.7zM255.22 238.47h2.7v2.7h-2.7zM256.33 245.93h2.7v2.7h-2.7zM257.45 235.74h2.7v2.7h-2.7zM258.56 233.84h2.7v2.7h-2.7zM259.67 249.61h2.7v2.7h-2.7zM260.79 236.16h2.7v2.7h-2.7zM261.9 248.14h2.7v2.7h-2.7zM263.02 241.2h2.7v2.7h-2.7zM264.13 237.94h2.7v2.7h-2.7zM265.24 240.99h2.7v2.7h-2.7zM266.36 252.13h2.7v2.7h-2.7zM267.47 238.68h2.7v2.7h-2.7zM268.59 251.71h2.7v2.7h-2.7zM269.7 236.37h2.7v2.7h-2.7zM270.82 255.49h2.7v2.7h-2.7zM271.93 245.09h2.7v2.7h-2.7zM273.04 245.09h2.7v2.7h-2.7zM274.16 246.77h2.7v2.7h-2.7zM275.27 239.83h2.7v2.7h-2.7zM276.39 239.41h2.7v2.7h-2.7zM277.5 259.38h2.7v2.7h-2.7zM278.61 237.94h2.7v2.7h-2.7zM279.73 230.8h2.7v2.7h-2.7zM280.84 247.4h2.7v2.7h-2.7zM281.96 226.91h2.7v2.7h-2.7zM283.07 223.65h2.7v2.7h-2.7zM284.19 224.7h2.7v2.7h-2.7zM285.3 217.24h2.7v2.7h-2.7zM286.41 238.68h2.7v2.7h-2.7zM287.53 242.25h2.7v2.7h-2.7zM288.64 235.95h2.7v2.7h-2.7zM289.76 207.88h2.7v2.7h-2.7zM290.87 200.11h2.7v2.7h-2.7zM291.98 213.14h2.7v2.7h-2.7zM293.1 218.39h2.7v2.7h-2.7zM294.21 231.01h2.7v2.7h-2.7zM295.33 236.05h2.7v2.7h-2.7zM296.44 255.39h2.7v2.7h-2.7zM297.56 250.13h2.7v2.7h-2.7zM298.67 232.9h2.7v2.7h-2.7zM299.78 218.39h2.7v2.7h-2.7zM300.9 249.92h2.7v2.7h-2.7zM302.01 266.74h2.7v2.7h-2.7zM303.13 262.54h2.7v2.7h-2.7zM305.35 245.72h2.7v2.7h-2.7zM306.47 224.7h2.7v2.7h-2.7zM307.58 218.6h2.7v2.7h-2.7zM308.7 216.29h2.7v2.7h-2.7zM309.81 217.34h2.7v2.7h-2.7zM310.93 235.21h2.7v2.7h-2.7zM312.04 268.84h2.7v2.7h-2.7zM313.15 222.6h2.7v2.7h-2.7zM314.27 239.41h2.7v2.7h-2.7zM316.5 219.45h2.7v2.7h-2.7zM317.61 226.8h2.7v2.7h-2.7zM318.72 262.54h2.7v2.7h-2.7zM319.84 260.43h2.7v2.7h-2.7zM320.95 265.69h2.7v2.7h-2.7zM322.07 273.05h2.7v2.7h-2.7zM323.18 254.13h2.7v2.7h-2.7zM324.3 267.79h2.7v2.7h-2.7zM326.52 231.01h2.7v2.7h-2.7zM329.87 227.85h2.7v2.7h-2.7zM330.98 239.41h2.7v2.7h-2.7zM334.32 235.21h2.7v2.7h-2.7zM335.44 233.11h2.7v2.7h-2.7zM337.67 237.31h2.7v2.7h-2.7zM338.78 228.9h2.7v2.7h-2.7zM339.89 241.52h2.7v2.7h-2.7zM342.12 231.01h2.7v2.7h-2.7zM343.24 240.47h2.7v2.7h-2.7zM344.35 266.74h2.7v2.7h-2.7zM345.46 225.75h2.7v2.7h-2.7zM346.58 274.1h2.7v2.7h-2.7zM347.69 276.2h2.7v2.7h-2.7zM349.92 235.21h2.7v2.7h-2.7zM351.04 231.01h2.7v2.7h-2.7zM352.15 234.16h2.7v2.7h-2.7z" fill="#d95319"/>
<line x1="232.06" y1="278.6" x2="232.06" y2="173.5" stroke="#2ee02e" stroke-width="0.9" stroke-dasharray="2.6 1.9"/>
</g>
<rect x="302.3" y="177.5" width="47.6" height="25.4" fill="#fff" stroke="#666" stroke-width="0.35"/>
<line x1="303.9" y1="182.1" x2="316.8" y2="182.1" stroke="#0072bd" stroke-width="1.0"/>
<rect x="309.15" y="180.9" width="2.4" height="2.4" fill="#0072bd"/>
<text x="318.1" y="184.3" font-size="6.1" text-anchor="start" font-family='"Liberation Sans", Arial, sans-serif' fill="#000">GRFT</text>
<line x1="303.9" y1="189.95" x2="316.8" y2="189.95" stroke="#d95319" stroke-width="1.0"/>
<rect x="309.15" y="188.75" width="2.4" height="2.4" fill="#d95319"/>
<text x="318.1" y="192.15" font-size="6.1" text-anchor="start" font-family='"Liberation Sans", Arial, sans-serif' fill="#000">AFS-GRFT</text>
<line x1="303.9" y1="197.8" x2="316.8" y2="197.8" stroke="#2ee02e" stroke-width="1.0" stroke-dasharray="2.6 1.9"/>
<text x="318.1" y="200" font-size="6.1" text-anchor="start" font-family='"Liberation Sans", Arial, sans-serif' fill="#000">Actual</text>
<path d="M233.17 336.4V441.5M255.45 336.4V441.5M277.74 336.4V441.5M300.02 336.4V441.5M322.3 336.4V441.5M344.59 336.4V441.5M212 357.42H353.5M212 378.44H353.5M212 399.46H353.5M212 420.48H353.5" stroke="#e4e4e4" stroke-width="0.5" fill="none"/>
<rect x="212" y="336.4" width="141.5" height="105.1" fill="none" stroke="#7a7a7a" stroke-width="0.45"/>
<text x="233.17" y="451.4" font-size="6.9" text-anchor="middle" font-family='"Liberation Sans", Arial, sans-serif' fill="#262626">20</text>
<text x="255.45" y="451.4" font-size="6.9" text-anchor="middle" font-family='"Liberation Sans", Arial, sans-serif' fill="#262626">40</text>
<text x="277.74" y="451.4" font-size="6.9" text-anchor="middle" font-family='"Liberation Sans", Arial, sans-serif' fill="#262626">60</text>
<text x="300.02" y="451.4" font-size="6.9" text-anchor="middle" font-family='"Liberation Sans", Arial, sans-serif' fill="#262626">80</text>
<text x="322.3" y="451.4" font-size="6.9" text-anchor="middle" font-family='"Liberation Sans", Arial, sans-serif' fill="#262626">100</text>
<text x="344.59" y="451.4" font-size="6.9" text-anchor="middle" font-family='"Liberation Sans", Arial, sans-serif' fill="#262626">120</text>
<text x="209.7" y="338.85" font-size="6.9" text-anchor="end" font-family='"Liberation Sans", Arial, sans-serif' fill="#262626">0</text>
<text x="209.7" y="359.87" font-size="6.9" text-anchor="end" font-family='"Liberation Sans", Arial, sans-serif' fill="#262626">-2</text>
<text x="209.7" y="380.89" font-size="6.9" text-anchor="end" font-family='"Liberation Sans", Arial, sans-serif' fill="#262626">-4</text>
<text x="209.7" y="401.91" font-size="6.9" text-anchor="end" font-family='"Liberation Sans", Arial, sans-serif' fill="#262626">-6</text>
<text x="209.7" y="422.93" font-size="6.9" text-anchor="end" font-family='"Liberation Sans", Arial, sans-serif' fill="#262626">-8</text>
<text x="209.7" y="443.95" font-size="6.9" text-anchor="end" font-family='"Liberation Sans", Arial, sans-serif' fill="#262626">-10</text>
<text x="282.75" y="461.4" font-size="7.75" text-anchor="middle" font-family='"Liberation Sans", Arial, sans-serif' fill="#262626">Candidate trajectory number</text>
<text transform="translate(196.4 389.35) rotate(-90)" font-size="7.78" text-anchor="middle" font-family='"Liberation Sans", Arial, sans-serif' fill="#262626">Normalized amplitude (dB)</text>
<text x="276.6" y="475.8" font-size="8.3" text-anchor="middle" font-family='"Liberation Serif", "Times New Roman", serif' fill="#111" font-weight="bold">(h)</text>
<g clip-path="url(#lp2)">
<polyline points="212,369.61 213.11,363.73 214.23,359.31 215.34,356.79 216.46,357.63 217.57,360.89 218.69,359.63 219.8,361.1 220.91,364.15 222.03,361.2 223.14,356.47 224.26,358.37 225.37,359.73 226.48,361.73 227.6,357.84 228.71,358.47 229.83,355.74 230.94,353.43 232.06,361.1 233.17,353.53 234.28,356.89 235.4,354.48 236.51,354.69 237.63,346.7 238.74,347.23 239.85,347.02 240.97,342.18 242.08,350.06 243.2,342.71 244.31,342.18 245.43,351.11 246.54,344.28 247.65,347.33 248.77,340.71 249.88,343.97 251,339.87 252.11,343.55 253.22,343.44 254.34,341.66 255.45,336.4 256.57,341.66 257.68,346.91 258.8,345.44 259.91,351.64 261.02,349.64 262.14,348.7 263.25,352.8 264.37,349.54 265.48,345.86 266.59,345.02 267.71,342.29 268.82,343.86 269.94,344.7 271.05,345.96 272.17,353.01 273.28,346.38 274.39,349.33 275.51,345.44 276.62,349.01 277.74,350.48 278.85,352.48 279.96,353.01 281.08,358.37 282.19,357.74 283.31,349.75 284.42,352.48 285.54,355.53 286.65,355.63 287.76,356.05 288.88,345.33 289.99,354.69 291.11,357.21 292.22,360.26 293.33,366.46 294.45,359.73 295.56,356.68 296.68,359 297.79,362.04 298.91,365.83 300.02,368.56 301.13,365.09 302.25,367.19 303.36,370.14 304.48,361.52 305.59,370.56 306.7,369.72 307.82,376.34 308.93,363.31 310.05,370.03 311.16,370.35 312.28,369.4 313.39,373.5 314.5,373.08 315.62,370.35 316.73,374.45 317.85,370.87 318.96,368.14 320.07,370.03 321.19,368.04 322.3,369.51 323.42,367.3 324.53,372.34 325.65,371.82 326.76,377.18 327.87,374.03 328.99,375.92 330.1,373.71 331.22,377.18 332.33,372.45 333.44,364.57 334.56,376.34 335.67,371.61 336.79,371.5 337.9,376.34 339.02,374.87 340.13,375.71 341.24,372.24 342.36,376.13 343.47,364.57 344.59,370.87 345.7,369.93 346.81,366.25 347.93,369.09 349.04,374.55 350.16,372.87 351.27,374.03 352.39,373.29 353.5,371.08" fill="none" stroke="#0072bd" stroke-width="1.25" stroke-linejoin="round"/>
<path d="M210.65 368.26h2.7v2.7h-2.7zM211.76 362.38h2.7v2.7h-2.7zM212.88 357.96h2.7v2.7h-2.7zM213.99 355.44h2.7v2.7h-2.7zM215.11 356.28h2.7v2.7h-2.7zM216.22 359.54h2.7v2.7h-2.7zM217.34 358.28h2.7v2.7h-2.7zM218.45 359.75h2.7v2.7h-2.7zM219.56 362.8h2.7v2.7h-2.7zM220.68 359.85h2.7v2.7h-2.7zM221.79 355.12h2.7v2.7h-2.7zM222.91 357.02h2.7v2.7h-2.7zM224.02 358.38h2.7v2.7h-2.7zM225.13 360.38h2.7v2.7h-2.7zM226.25 356.49h2.7v2.7h-2.7zM227.36 357.12h2.7v2.7h-2.7zM228.48 354.39h2.7v2.7h-2.7zM229.59 352.08h2.7v2.7h-2.7zM230.71 359.75h2.7v2.7h-2.7zM231.82 352.18h2.7v2.7h-2.7zM232.93 355.54h2.7v2.7h-2.7zM234.05 353.13h2.7v2.7h-2.7zM235.16 353.34h2.7v2.7h-2.7zM236.28 345.35h2.7v2.7h-2.7zM237.39 345.88h2.7v2.7h-2.7zM238.5 345.67h2.7v2.7h-2.7zM239.62 340.83h2.7v2.7h-2.7zM240.73 348.71h2.7v2.7h-2.7zM241.85 341.36h2.7v2.7h-2.7zM242.96 340.83h2.7v2.7h-2.7zM244.08 349.76h2.7v2.7h-2.7zM245.19 342.93h2.7v2.7h-2.7zM246.3 345.98h2.7v2.7h-2.7zM247.42 339.36h2.7v2.7h-2.7zM248.53 342.62h2.7v2.7h-2.7zM249.65 338.52h2.7v2.7h-2.7zM250.76 342.2h2.7v2.7h-2.7zM251.87 342.09h2.7v2.7h-2.7zM252.99 340.31h2.7v2.7h-2.7zM254.1 335.05h2.7v2.7h-2.7zM255.22 340.31h2.7v2.7h-2.7zM256.33 345.56h2.7v2.7h-2.7zM257.45 344.09h2.7v2.7h-2.7zM258.56 350.29h2.7v2.7h-2.7zM259.67 348.29h2.7v2.7h-2.7zM260.79 347.35h2.7v2.7h-2.7zM261.9 351.45h2.7v2.7h-2.7zM263.02 348.19h2.7v2.7h-2.7zM264.13 344.51h2.7v2.7h-2.7zM265.24 343.67h2.7v2.7h-2.7zM266.36 340.94h2.7v2.7h-2.7zM267.47 342.51h2.7v2.7h-2.7zM268.59 343.35h2.7v2.7h-2.7zM269.7 344.61h2.7v2.7h-2.7zM270.82 351.66h2.7v2.7h-2.7zM271.93 345.03h2.7v2.7h-2.7zM273.04 347.98h2.7v2.7h-2.7zM274.16 344.09h2.7v2.7h-2.7zM275.27 347.66h2.7v2.7h-2.7zM276.39 349.13h2.7v2.7h-2.7zM277.5 351.13h2.7v2.7h-2.7zM278.61 351.66h2.7v2.7h-2.7zM279.73 357.02h2.7v2.7h-2.7zM280.84 356.39h2.7v2.7h-2.7zM281.96 348.4h2.7v2.7h-2.7zM283.07 351.13h2.7v2.7h-2.7zM284.19 354.18h2.7v2.7h-2.7zM285.3 354.28h2.7v2.7h-2.7zM286.41 354.7h2.7v2.7h-2.7zM287.53 343.98h2.7v2.7h-2.7zM288.64 353.34h2.7v2.7h-2.7zM289.76 355.86h2.7v2.7h-2.7zM290.87 358.91h2.7v2.7h-2.7zM291.98 365.11h2.7v2.7h-2.7zM293.1 358.38h2.7v2.7h-2.7zM294.21 355.33h2.7v2.7h-2.7zM295.33 357.65h2.7v2.7h-2.7zM296.44 360.69h2.7v2.7h-2.7zM297.56 364.48h2.7v2.7h-2.7zM298.67 367.21h2.7v2.7h-2.7zM299.78 363.74h2.7v2.7h-2.7zM300.9 365.84h2.7v2.7h-2.7zM302.01 368.79h2.7v2.7h-2.7zM303.13 360.17h2.7v2.7h-2.7zM304.24 369.21h2.7v2.7h-2.7zM305.35 368.37h2.7v2.7h-2.7zM306.47 374.99h2.7v2.7h-2.7zM307.58 361.96h2.7v2.7h-2.7zM308.7 368.68h2.7v2.7h-2.7zM309.81 369h2.7v2.7h-2.7zM310.93 368.05h2.7v2.7h-2.7zM312.04 372.15h2.7v2.7h-2.7zM313.15 371.73h2.7v2.7h-2.7zM314.27 369h2.7v2.7h-2.7zM315.38 373.1h2.7v2.7h-2.7zM316.5 369.52h2.7v2.7h-2.7zM317.61 366.79h2.7v2.7h-2.7zM318.72 368.68h2.7v2.7h-2.7zM319.84 366.69h2.7v2.7h-2.7zM320.95 368.16h2.7v2.7h-2.7zM322.07 365.95h2.7v2.7h-2.7zM323.18 370.99h2.7v2.7h-2.7zM324.3 370.47h2.7v2.7h-2.7zM325.41 375.83h2.7v2.7h-2.7zM326.52 372.68h2.7v2.7h-2.7zM327.64 374.57h2.7v2.7h-2.7zM328.75 372.36h2.7v2.7h-2.7zM329.87 375.83h2.7v2.7h-2.7zM330.98 371.1h2.7v2.7h-2.7zM332.09 363.22h2.7v2.7h-2.7zM333.21 374.99h2.7v2.7h-2.7zM334.32 370.26h2.7v2.7h-2.7zM335.44 370.15h2.7v2.7h-2.7zM336.55 374.99h2.7v2.7h-2.7zM337.67 373.52h2.7v2.7h-2.7zM338.78 374.36h2.7v2.7h-2.7zM339.89 370.89h2.7v2.7h-2.7zM341.01 374.78h2.7v2.7h-2.7zM342.12 363.22h2.7v2.7h-2.7zM343.24 369.52h2.7v2.7h-2.7zM344.35 368.58h2.7v2.7h-2.7zM345.46 364.9h2.7v2.7h-2.7zM346.58 367.74h2.7v2.7h-2.7zM347.69 373.2h2.7v2.7h-2.7zM348.81 371.52h2.7v2.7h-2.7zM349.92 372.68h2.7v2.7h-2.7zM351.04 371.94h2.7v2.7h-2.7zM352.15 369.73h2.7v2.7h-2.7z" fill="#0072bd"/>
<polyline points="212,390 213.11,403.66 214.23,380.54 215.34,393.15 216.46,390.84 217.57,392 218.69,407.55 219.8,402.19 220.91,392.63 222.03,391.16 223.14,414.28 224.26,400.2 225.37,381.91 226.48,397.36 227.6,394.63 228.71,389.16 229.83,415.96 230.94,402.61 232.06,399.57 233.17,396.52 234.28,391.16 235.4,395.15 236.51,406.71 237.63,402.4 238.74,407.87 239.85,428.89 240.97,393.15 242.08,390.84 243.2,410.81 244.31,394.94 245.43,385.69 246.54,391.16 247.65,423.63 248.77,403.66 249.88,396.2 251,409.65 252.11,386.85 253.22,388.32 254.34,381.59 255.45,336.4 256.57,388.95 257.68,413.12 258.8,418.06 259.91,403.35 261.02,409.34 262.14,404.61 263.25,420.48 264.37,399.78 265.48,384.85 266.59,411.76 267.71,392.52 268.82,409.97 269.94,394.84 271.05,388.95 272.17,398.93 273.28,382.54 274.39,378.97 275.51,382.64 276.62,357.42 277.74,363.73 278.85,382.64 279.96,367.93 281.08,388.95 282.19,387.9 283.31,395.26 284.42,384.75 285.54,357.42 286.65,360.57 287.76,388.95 288.88,367.93 289.99,376.34 291.11,375.6 292.22,374.03 293.33,370.77 294.45,363.73 295.56,387.06 296.68,364.04 297.79,380.23 298.91,377.28 300.02,376.44 301.13,388.42 302.25,374.24 303.36,376.02 304.48,378.33 305.59,426.79 306.7,393.15 307.82,373.71 308.93,380.65 310.05,387.9 311.16,380.54 312.28,377.39 313.39,391.05 314.5,383.7 315.62,407.87 316.73,416.28 317.85,382.64 318.96,420.48 320.07,388.95 321.19,438.35 322.3,440.45 323.42,437.3 324.53,378.44 325.65,373.19 326.76,380.54 327.87,376.34 328.99,384.75 330.1,374.24 331.22,388.95 332.33,434.14 333.44,462.52 334.56,462.52 335.67,394.21 336.79,404.72 337.9,377.39 339.02,371.08 340.13,378.44 341.24,382.64 342.36,374.24 343.47,462.52 344.59,462.52 345.7,378.44 346.81,372.13 347.93,379.49 349.04,374.24 350.16,370.03 351.27,377.39 352.39,462.52 353.5,380.54" fill="none" stroke="#d95319" stroke-width="1.25" stroke-linejoin="round"/>
<path d="M210.65 388.65h2.7v2.7h-2.7zM211.76 402.31h2.7v2.7h-2.7zM212.88 379.19h2.7v2.7h-2.7zM213.99 391.8h2.7v2.7h-2.7zM215.11 389.49h2.7v2.7h-2.7zM216.22 390.65h2.7v2.7h-2.7zM217.34 406.2h2.7v2.7h-2.7zM218.45 400.84h2.7v2.7h-2.7zM219.56 391.28h2.7v2.7h-2.7zM220.68 389.81h2.7v2.7h-2.7zM221.79 412.93h2.7v2.7h-2.7zM222.91 398.85h2.7v2.7h-2.7zM224.02 380.56h2.7v2.7h-2.7zM225.13 396.01h2.7v2.7h-2.7zM226.25 393.28h2.7v2.7h-2.7zM227.36 387.81h2.7v2.7h-2.7zM228.48 414.61h2.7v2.7h-2.7zM229.59 401.26h2.7v2.7h-2.7zM230.71 398.22h2.7v2.7h-2.7zM231.82 395.17h2.7v2.7h-2.7zM232.93 389.81h2.7v2.7h-2.7zM234.05 393.8h2.7v2.7h-2.7zM235.16 405.36h2.7v2.7h-2.7zM236.28 401.05h2.7v2.7h-2.7zM237.39 406.52h2.7v2.7h-2.7zM238.5 427.54h2.7v2.7h-2.7zM239.62 391.8h2.7v2.7h-2.7zM240.73 389.49h2.7v2.7h-2.7zM241.85 409.46h2.7v2.7h-2.7zM242.96 393.59h2.7v2.7h-2.7zM244.08 384.34h2.7v2.7h-2.7zM245.19 389.81h2.7v2.7h-2.7zM246.3 422.28h2.7v2.7h-2.7zM247.42 402.31h2.7v2.7h-2.7zM248.53 394.85h2.7v2.7h-2.7zM249.65 408.3h2.7v2.7h-2.7zM250.76 385.5h2.7v2.7h-2.7zM251.87 386.97h2.7v2.7h-2.7zM252.99 380.24h2.7v2.7h-2.7zM254.1 335.05h2.7v2.7h-2.7zM255.22 387.6h2.7v2.7h-2.7zM256.33 411.77h2.7v2.7h-2.7zM257.45 416.71h2.7v2.7h-2.7zM258.56 402h2.7v2.7h-2.7zM259.67 407.99h2.7v2.7h-2.7zM260.79 403.26h2.7v2.7h-2.7zM261.9 419.13h2.7v2.7h-2.7zM263.02 398.43h2.7v2.7h-2.7zM264.13 383.5h2.7v2.7h-2.7zM265.24 410.41h2.7v2.7h-2.7zM266.36 391.17h2.7v2.7h-2.7zM267.47 408.62h2.7v2.7h-2.7zM268.59 393.49h2.7v2.7h-2.7zM269.7 387.6h2.7v2.7h-2.7zM270.82 397.58h2.7v2.7h-2.7zM271.93 381.19h2.7v2.7h-2.7zM273.04 377.62h2.7v2.7h-2.7zM274.16 381.29h2.7v2.7h-2.7zM275.27 356.07h2.7v2.7h-2.7zM276.39 362.38h2.7v2.7h-2.7zM277.5 381.29h2.7v2.7h-2.7zM278.61 366.58h2.7v2.7h-2.7zM279.73 387.6h2.7v2.7h-2.7zM280.84 386.55h2.7v2.7h-2.7zM281.96 393.91h2.7v2.7h-2.7zM283.07 383.4h2.7v2.7h-2.7zM284.19 356.07h2.7v2.7h-2.7zM285.3 359.22h2.7v2.7h-2.7zM286.41 387.6h2.7v2.7h-2.7zM287.53 366.58h2.7v2.7h-2.7zM288.64 374.99h2.7v2.7h-2.7zM289.76 374.25h2.7v2.7h-2.7zM290.87 372.68h2.7v2.7h-2.7zM291.98 369.42h2.7v2.7h-2.7zM293.1 362.38h2.7v2.7h-2.7zM294.21 385.71h2.7v2.7h-2.7zM295.33 362.69h2.7v2.7h-2.7zM296.44 378.88h2.7v2.7h-2.7zM297.56 375.93h2.7v2.7h-2.7zM298.67 375.09h2.7v2.7h-2.7zM299.78 387.07h2.7v2.7h-2.7zM300.9 372.89h2.7v2.7h-2.7zM302.01 374.67h2.7v2.7h-2.7zM303.13 376.98h2.7v2.7h-2.7zM304.24 425.44h2.7v2.7h-2.7zM305.35 391.8h2.7v2.7h-2.7zM306.47 372.36h2.7v2.7h-2.7zM307.58 379.3h2.7v2.7h-2.7zM308.7 386.55h2.7v2.7h-2.7zM309.81 379.19h2.7v2.7h-2.7zM310.93 376.04h2.7v2.7h-2.7zM312.04 389.7h2.7v2.7h-2.7zM313.15 382.35h2.7v2.7h-2.7zM314.27 406.52h2.7v2.7h-2.7zM315.38 414.93h2.7v2.7h-2.7zM316.5 381.29h2.7v2.7h-2.7zM317.61 419.13h2.7v2.7h-2.7zM318.72 387.6h2.7v2.7h-2.7zM319.84 437h2.7v2.7h-2.7zM320.95 439.1h2.7v2.7h-2.7zM322.07 435.95h2.7v2.7h-2.7zM323.18 377.09h2.7v2.7h-2.7zM324.3 371.83h2.7v2.7h-2.7zM325.41 379.19h2.7v2.7h-2.7zM326.52 374.99h2.7v2.7h-2.7zM327.64 383.4h2.7v2.7h-2.7zM328.75 372.89h2.7v2.7h-2.7zM329.87 387.6h2.7v2.7h-2.7zM330.98 432.79h2.7v2.7h-2.7zM334.32 392.86h2.7v2.7h-2.7zM335.44 403.37h2.7v2.7h-2.7zM336.55 376.04h2.7v2.7h-2.7zM337.67 369.73h2.7v2.7h-2.7zM338.78 377.09h2.7v2.7h-2.7zM339.89 381.29h2.7v2.7h-2.7zM341.01 372.89h2.7v2.7h-2.7zM344.35 377.09h2.7v2.7h-2.7zM345.46 370.78h2.7v2.7h-2.7zM346.58 378.14h2.7v2.7h-2.7zM347.69 372.89h2.7v2.7h-2.7zM348.81 368.68h2.7v2.7h-2.7zM349.92 376.04h2.7v2.7h-2.7zM352.15 379.19h2.7v2.7h-2.7z" fill="#d95319"/>
<line x1="255.45" y1="441.5" x2="255.45" y2="336.4" stroke="#2ee02e" stroke-width="0.9" stroke-dasharray="2.6 1.9"/>
</g>
<rect x="302.3" y="340.4" width="47.6" height="25.4" fill="#fff" stroke="#666" stroke-width="0.35"/>
<line x1="303.9" y1="345" x2="316.8" y2="345" stroke="#0072bd" stroke-width="1.0"/>
<rect x="309.15" y="343.8" width="2.4" height="2.4" fill="#0072bd"/>
<text x="318.1" y="347.2" font-size="6.1" text-anchor="start" font-family='"Liberation Sans", Arial, sans-serif' fill="#000">GRFT</text>
<line x1="303.9" y1="352.85" x2="316.8" y2="352.85" stroke="#d95319" stroke-width="1.0"/>
<rect x="309.15" y="351.65" width="2.4" height="2.4" fill="#d95319"/>
<text x="318.1" y="355.05" font-size="6.1" text-anchor="start" font-family='"Liberation Sans", Arial, sans-serif' fill="#000">AFS-GRFT</text>
<line x1="303.9" y1="360.7" x2="316.8" y2="360.7" stroke="#2ee02e" stroke-width="1.0" stroke-dasharray="2.6 1.9"/>
<text x="318.1" y="362.9" font-size="6.1" text-anchor="start" font-family='"Liberation Sans", Arial, sans-serif' fill="#000">Actual</text></svg></body></html>
